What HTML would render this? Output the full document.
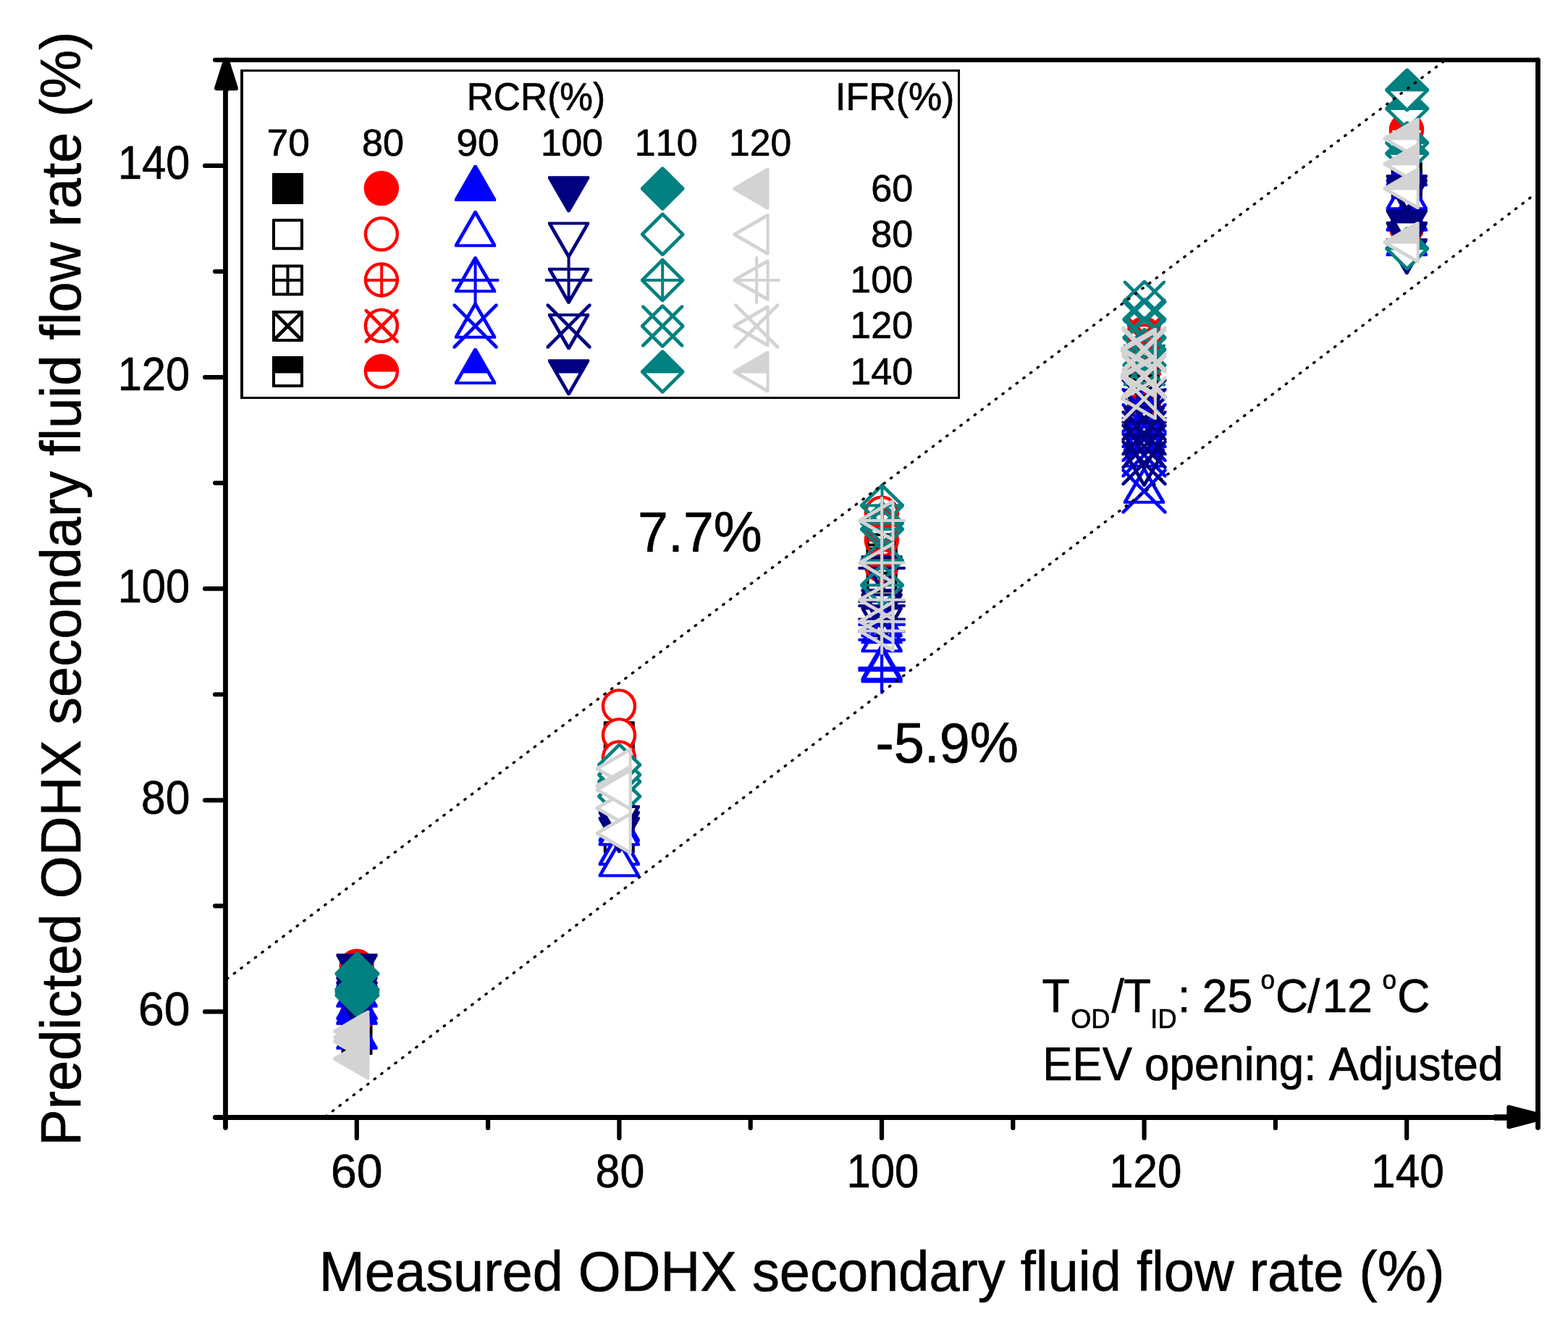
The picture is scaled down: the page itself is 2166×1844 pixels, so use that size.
<!DOCTYPE html>
<html lang="en">
<head>
<meta charset="utf-8">
<title>Predicted vs measured ODHX secondary fluid flow rate</title>
<style>
html,body{margin:0;padding:0;background:#fff;}
body{width:2166px;height:1844px;overflow:hidden;}
svg{display:block;}
</style>
</head>
<body>
<svg width="2166" height="1844" viewBox="0 0 2166 1844">
<g id="pts">
<path d="M471.5 1319.2L472.2 1318.5L513.8 1318.5L514.5 1319.2L514.5 1360.8L513.8 1361.5L472.2 1361.5L471.5 1360.8Z" fill="#000000"/>
<path d="M471.5 1359.2L472.2 1358.5L513.8 1358.5L514.5 1359.2L514.5 1400.8L513.8 1401.5L472.2 1401.5L471.5 1400.8Z" fill="#000000"/>
<path d="M471.5 1414.7L472.2 1414L513.8 1414L514.5 1414.7L514.5 1456.3L513.8 1457L472.2 1457L471.5 1456.3Z" fill="#000000"/>
<circle cx="492.7" cy="1334.6" r="24.2" fill="#ff0000"/>
<circle cx="492.7" cy="1369.5" r="24.2" fill="#ff0000"/>
<circle cx="492.7" cy="1403.5" r="24.2" fill="#ff0000"/>
<path d="M464.4 1361.56L491 1315.48L491.7 1314.79L494.3 1314.79L495 1315.48L521.6 1361.56L521.6 1364.16L520.9 1364.86L465.1 1364.86L464.4 1364.16Z" fill="#0000ff"/>
<path d="M464.4 1388.46L491 1342.38L491.7 1341.68L494.3 1341.68L495 1342.38L521.6 1388.46L521.6 1391.06L520.9 1391.76L465.1 1391.76L464.4 1391.06Z" fill="#0000ff"/>
<path d="M464.4 1405.76L491 1359.68L491.7 1358.98L494.3 1358.98L495 1359.68L521.6 1405.76L521.6 1408.36L520.9 1409.06L465.1 1409.06L464.4 1408.36Z" fill="#0000ff"/>
<path d="M464.4 1412.36L491 1366.29L491.7 1365.59L494.3 1365.59L495 1366.29L521.6 1412.36L521.6 1414.96L520.9 1415.66L465.1 1415.66L464.4 1414.96Z" fill="#0000ff"/>
<path d="M464.4 1446.46L491 1400.38L491.7 1399.68L494.3 1399.68L495 1400.38L521.6 1446.46L521.6 1449.06L520.9 1449.76L465.1 1449.76L464.4 1449.06Z" fill="#0000ff"/>
<path d="M464.4 1317.84L465.1 1317.14L520.9 1317.14L521.6 1317.84L521.6 1320.44L495 1366.52L494.3 1367.21L491.7 1367.21L491 1366.52L464.4 1320.44Z" fill="#000080"/>
<path d="M464.4 1349.34L465.1 1348.64L520.9 1348.64L521.6 1349.34L521.6 1351.94L495 1398.02L494.3 1398.71L491.7 1398.71L491 1398.02L464.4 1351.94Z" fill="#000080"/>
<path d="M464.4 1355.94L465.1 1355.24L520.9 1355.24L521.6 1355.94L521.6 1358.54L495 1404.62L494.3 1405.32L491.7 1405.32L491 1404.62L464.4 1358.54Z" fill="#000080"/>
<path d="M464.4 1370.34L465.1 1369.64L520.9 1369.64L521.6 1370.34L521.6 1372.94L495 1419.02L494.3 1419.71L491.7 1419.71L491 1419.02L464.4 1372.94Z" fill="#000080"/>
<path d="M462.5 1373.5L463.2 1372.8L492.1 1344.5L494.7 1344.5L523.6 1372.8L524.3 1373.5L524.3 1376.1L523.6 1376.8L494.7 1405.1L492.1 1405.1L463.2 1376.8L462.5 1376.1Z" fill="#008080"/>
<path d="M462.5 1368.7L463.2 1368L492.1 1339.7L494.7 1339.7L523.6 1368L524.3 1368.7L524.3 1371.3L523.6 1372L494.7 1400.3L492.1 1400.3L463.2 1372L462.5 1371.3Z" fill="#008080"/>
<path d="M462.5 1365.4L463.2 1364.7L492.1 1336.4L494.7 1336.4L523.6 1364.7L524.3 1365.4L524.3 1368L523.6 1368.7L494.7 1397L492.1 1397L463.2 1368.7L462.5 1368Z" fill="#008080"/>
<path d="M462.5 1343.65L463.2 1342.95L492.1 1314.65L494.7 1314.65L523.6 1342.95L524.3 1343.65L524.3 1346.25L523.6 1346.95L494.7 1375.25L492.1 1375.25L463.2 1346.95L462.5 1346.25Z" fill="#008080"/>
<path d="M460.29 1423.1L460.99 1422.4L507.06 1395.8L509.66 1395.8L510.36 1396.5L510.36 1452.3L509.66 1453L507.06 1453L460.99 1426.4L460.29 1425.7Z" fill="#d3d3d3"/>
<path d="M460.29 1431.7L460.99 1431L507.06 1404.4L509.66 1404.4L510.36 1405.1L510.36 1460.9L509.66 1461.6L507.06 1461.6L460.99 1435L460.29 1434.3Z" fill="#d3d3d3"/>
<path d="M460.29 1437.4L460.99 1436.7L507.06 1410.1L509.66 1410.1L510.36 1410.8L510.36 1466.6L509.66 1467.3L507.06 1467.3L460.99 1440.7L460.29 1440Z" fill="#d3d3d3"/>
<path d="M460.29 1461.2L460.99 1460.5L507.06 1433.9L509.66 1433.9L510.36 1434.6L510.36 1490.4L509.66 1491.1L507.06 1491.1L460.99 1464.5L460.29 1463.8Z" fill="#d3d3d3"/>
<path d="M835.8 998.3L874.8 998.3L874.8 1037.3L835.8 1037.3Z" fill="#fff"/><path d="M833.8 997L834.5 996.3L876.1 996.3L876.8 997L876.8 999.6L876.1 1000.3L834.5 1000.3L833.8 999.6ZM872.8 997L873.5 996.3L876.1 996.3L876.8 997L876.8 1038.6L876.1 1039.3L873.5 1039.3L872.8 1038.6ZM833.8 1036L834.5 1035.3L876.1 1035.3L876.8 1036L876.8 1038.6L876.1 1039.3L834.5 1039.3L833.8 1038.6ZM833.8 997L834.5 996.3L837.1 996.3L837.8 997L837.8 1038.6L837.1 1039.3L834.5 1039.3L833.8 1038.6Z" fill="#000000"/>
<path d="M835.8 1040.5L874.8 1040.5L874.8 1079.5L835.8 1079.5Z" fill="#fff"/><path d="M833.8 1039.2L834.5 1038.5L876.1 1038.5L876.8 1039.2L876.8 1041.8L876.1 1042.5L834.5 1042.5L833.8 1041.8ZM872.8 1039.2L873.5 1038.5L876.1 1038.5L876.8 1039.2L876.8 1080.8L876.1 1081.5L873.5 1081.5L872.8 1080.8ZM833.8 1078.2L834.5 1077.5L876.1 1077.5L876.8 1078.2L876.8 1080.8L876.1 1081.5L834.5 1081.5L833.8 1080.8ZM833.8 1039.2L834.5 1038.5L837.1 1038.5L837.8 1039.2L837.8 1080.8L837.1 1081.5L834.5 1081.5L833.8 1080.8Z" fill="#000000"/>
<path d="M835.8 1090.5L874.8 1090.5L874.8 1129.5L835.8 1129.5Z" fill="#fff"/><path d="M833.8 1089.2L834.5 1088.5L876.1 1088.5L876.8 1089.2L876.8 1091.8L876.1 1092.5L834.5 1092.5L833.8 1091.8ZM872.8 1089.2L873.5 1088.5L876.1 1088.5L876.8 1089.2L876.8 1130.8L876.1 1131.5L873.5 1131.5L872.8 1130.8ZM833.8 1128.2L834.5 1127.5L876.1 1127.5L876.8 1128.2L876.8 1130.8L876.1 1131.5L834.5 1131.5L833.8 1130.8ZM833.8 1089.2L834.5 1088.5L837.1 1088.5L837.8 1089.2L837.8 1130.8L837.1 1131.5L834.5 1131.5L833.8 1130.8Z" fill="#000000"/>
<path d="M835.8 1137.3L874.8 1137.3L874.8 1176.3L835.8 1176.3Z" fill="#fff"/><path d="M833.8 1136L834.5 1135.3L876.1 1135.3L876.8 1136L876.8 1138.6L876.1 1139.3L834.5 1139.3L833.8 1138.6ZM872.8 1136L873.5 1135.3L876.1 1135.3L876.8 1136L876.8 1177.6L876.1 1178.3L873.5 1178.3L872.8 1177.6ZM833.8 1175L834.5 1174.3L876.1 1174.3L876.8 1175L876.8 1177.6L876.1 1178.3L834.5 1178.3L833.8 1177.6ZM833.8 1136L834.5 1135.3L837.1 1135.3L837.8 1136L837.8 1177.6L837.1 1178.3L834.5 1178.3L833.8 1177.6Z" fill="#000000"/>
<circle cx="855" cy="975.4" r="22" fill="#fff" stroke="#ff0000" stroke-width="4.4"/>
<circle cx="855" cy="1015.4" r="22" fill="#fff" stroke="#ff0000" stroke-width="4.4"/>
<circle cx="855" cy="1046.4" r="22" fill="#fff" stroke="#ff0000" stroke-width="4.4"/>
<path d="M855.3 1114.88L881.9 1160.96L828.7 1160.96Z" fill="#fff"/><path d="M853.3 1113.59L854 1112.88L856.6 1112.88L857.3 1113.59L883.9 1159.66L883.9 1162.26L883.2 1162.96L880.6 1162.96L879.9 1162.26L853.3 1116.18ZM826.7 1159.66L827.4 1158.96L883.2 1158.96L883.9 1159.66L883.9 1162.26L883.2 1162.96L827.4 1162.96L826.7 1162.26ZM826.7 1159.66L853.3 1113.59L854 1112.88L856.6 1112.88L857.3 1113.59L857.3 1116.18L830.7 1162.26L830 1162.96L827.4 1162.96L826.7 1162.26Z" fill="#0000ff"/>
<path d="M855.3 1120.38L881.9 1166.46L828.7 1166.46Z" fill="#fff"/><path d="M853.3 1119.09L854 1118.38L856.6 1118.38L857.3 1119.09L883.9 1165.16L883.9 1167.76L883.2 1168.46L880.6 1168.46L879.9 1167.76L853.3 1121.68ZM826.7 1165.16L827.4 1164.46L883.2 1164.46L883.9 1165.16L883.9 1167.76L883.2 1168.46L827.4 1168.46L826.7 1167.76ZM826.7 1165.16L853.3 1119.09L854 1118.38L856.6 1118.38L857.3 1119.09L857.3 1121.68L830.7 1167.76L830 1168.46L827.4 1168.46L826.7 1167.76Z" fill="#0000ff"/>
<path d="M855.3 1147.58L881.9 1193.66L828.7 1193.66Z" fill="#fff"/><path d="M853.3 1146.29L854 1145.59L856.6 1145.59L857.3 1146.29L883.9 1192.36L883.9 1194.96L883.2 1195.66L880.6 1195.66L879.9 1194.96L853.3 1148.88ZM826.7 1192.36L827.4 1191.66L883.2 1191.66L883.9 1192.36L883.9 1194.96L883.2 1195.66L827.4 1195.66L826.7 1194.96ZM826.7 1192.36L853.3 1146.29L854 1145.59L856.6 1145.59L857.3 1146.29L857.3 1148.88L830.7 1194.96L830 1195.66L827.4 1195.66L826.7 1194.96Z" fill="#0000ff"/>
<path d="M855.3 1163.48L881.9 1209.56L828.7 1209.56Z" fill="#fff"/><path d="M853.3 1162.18L854 1161.48L856.6 1161.48L857.3 1162.18L883.9 1208.26L883.9 1210.86L883.2 1211.56L880.6 1211.56L879.9 1210.86L853.3 1164.79ZM826.7 1208.26L827.4 1207.56L883.2 1207.56L883.9 1208.26L883.9 1210.86L883.2 1211.56L827.4 1211.56L826.7 1210.86ZM826.7 1208.26L853.3 1162.18L854 1161.48L856.6 1161.48L857.3 1162.18L857.3 1164.79L830.7 1210.86L830 1211.56L827.4 1211.56L826.7 1210.86Z" fill="#0000ff"/>
<path d="M855.3 1176.22L881.9 1130.14L828.7 1130.14Z" fill="#fff"/><path d="M853.3 1174.91L879.9 1128.84L880.6 1128.14L883.2 1128.14L883.9 1128.84L883.9 1131.44L857.3 1177.52L856.6 1178.21L854 1178.21L853.3 1177.52ZM826.7 1128.84L827.4 1128.14L883.2 1128.14L883.9 1128.84L883.9 1131.44L883.2 1132.14L827.4 1132.14L826.7 1131.44ZM826.7 1128.84L827.4 1128.14L830 1128.14L830.7 1128.84L857.3 1174.91L857.3 1177.52L856.6 1178.21L854 1178.21L853.3 1177.52L826.7 1131.44Z" fill="#000080"/>
<path d="M855.3 1168.32L881.9 1122.24L828.7 1122.24Z" fill="#fff"/><path d="M853.3 1167.02L879.9 1120.94L880.6 1120.24L883.2 1120.24L883.9 1120.94L883.9 1123.54L857.3 1169.62L856.6 1170.32L854 1170.32L853.3 1169.62ZM826.7 1120.94L827.4 1120.24L883.2 1120.24L883.9 1120.94L883.9 1123.54L883.2 1124.24L827.4 1124.24L826.7 1123.54ZM826.7 1120.94L827.4 1120.24L830 1120.24L830.7 1120.94L857.3 1167.02L857.3 1169.62L856.6 1170.32L854 1170.32L853.3 1169.62L826.7 1123.54Z" fill="#000080"/>
<path d="M855.3 1160.22L881.9 1114.14L828.7 1114.14Z" fill="#fff"/><path d="M853.3 1158.91L879.9 1112.84L880.6 1112.14L883.2 1112.14L883.9 1112.84L883.9 1115.44L857.3 1161.52L856.6 1162.21L854 1162.21L853.3 1161.52ZM826.7 1112.84L827.4 1112.14L883.2 1112.14L883.9 1112.84L883.9 1115.44L883.2 1116.14L827.4 1116.14L826.7 1115.44ZM826.7 1112.84L827.4 1112.14L830 1112.14L830.7 1112.84L857.3 1158.91L857.3 1161.52L856.6 1162.21L854 1162.21L853.3 1161.52L826.7 1115.44Z" fill="#000080"/>
<path d="M855.7 1072.15L884.15 1100L855.7 1127.85L827.25 1100Z" fill="#fff"/><path d="M853.7 1070.85L854.4 1070.15L857 1070.15L885.45 1098L886.15 1098.7L886.15 1101.3L885.45 1102L882.85 1102L854.4 1074.15L853.7 1073.45ZM853.7 1126.55L854.4 1125.85L882.85 1098L885.45 1098L886.15 1098.7L886.15 1101.3L885.45 1102L857 1129.85L854.4 1129.85L853.7 1129.15ZM825.25 1098.7L825.95 1098L828.55 1098L857 1125.85L857.7 1126.55L857.7 1129.15L857 1129.85L854.4 1129.85L825.95 1102L825.25 1101.3ZM825.25 1098.7L825.95 1098L854.4 1070.15L857 1070.15L857.7 1070.85L857.7 1073.45L857 1074.15L828.55 1102L825.95 1102L825.25 1101.3Z" fill="#008080"/>
<path d="M855.7 1051.85L884.15 1079.7L855.7 1107.55L827.25 1079.7Z" fill="#fff"/><path d="M853.7 1050.55L854.4 1049.85L857 1049.85L885.45 1077.7L886.15 1078.4L886.15 1081L885.45 1081.7L882.85 1081.7L854.4 1053.85L853.7 1053.15ZM853.7 1106.25L854.4 1105.55L882.85 1077.7L885.45 1077.7L886.15 1078.4L886.15 1081L885.45 1081.7L857 1109.55L854.4 1109.55L853.7 1108.85ZM825.25 1078.4L825.95 1077.7L828.55 1077.7L857 1105.55L857.7 1106.25L857.7 1108.85L857 1109.55L854.4 1109.55L825.95 1081.7L825.25 1081ZM825.25 1078.4L825.95 1077.7L854.4 1049.85L857 1049.85L857.7 1050.55L857.7 1053.15L857 1053.85L828.55 1081.7L825.95 1081.7L825.25 1081Z" fill="#008080"/>
<path d="M855.7 1042.45L884.15 1070.3L855.7 1098.15L827.25 1070.3Z" fill="#fff"/><path d="M853.7 1041.15L854.4 1040.45L857 1040.45L885.45 1068.3L886.15 1069L886.15 1071.6L885.45 1072.3L882.85 1072.3L854.4 1044.45L853.7 1043.75ZM853.7 1096.85L854.4 1096.15L882.85 1068.3L885.45 1068.3L886.15 1069L886.15 1071.6L885.45 1072.3L857 1100.15L854.4 1100.15L853.7 1099.45ZM825.25 1069L825.95 1068.3L828.55 1068.3L857 1096.15L857.7 1096.85L857.7 1099.45L857 1100.15L854.4 1100.15L825.95 1072.3L825.25 1071.6ZM825.25 1069L825.95 1068.3L854.4 1040.45L857 1040.45L857.7 1041.15L857.7 1043.75L857 1044.45L828.55 1072.3L825.95 1072.3L825.25 1071.6Z" fill="#008080"/>
<path d="M855.7 1028.55L884.15 1056.4L855.7 1084.25L827.25 1056.4Z" fill="#fff"/><path d="M853.7 1027.25L854.4 1026.55L857 1026.55L885.45 1054.4L886.15 1055.1L886.15 1057.7L885.45 1058.4L882.85 1058.4L854.4 1030.55L853.7 1029.85ZM853.7 1082.95L854.4 1082.25L882.85 1054.4L885.45 1054.4L886.15 1055.1L886.15 1057.7L885.45 1058.4L857 1086.25L854.4 1086.25L853.7 1085.55ZM825.25 1055.1L825.95 1054.4L828.55 1054.4L857 1082.25L857.7 1082.95L857.7 1085.55L857 1086.25L854.4 1086.25L825.95 1058.4L825.25 1057.7ZM825.25 1055.1L825.95 1054.4L854.4 1026.55L857 1026.55L857.7 1027.25L857.7 1029.85L857 1030.55L828.55 1058.4L825.95 1058.4L825.25 1057.7Z" fill="#008080"/>
<path d="M824.58 1116.2L870.66 1089.6L870.66 1142.8Z" fill="#fff"/><path d="M822.59 1114.9L823.28 1114.2L869.36 1087.6L871.96 1087.6L872.66 1088.3L872.66 1090.9L871.96 1091.6L825.88 1118.2L823.28 1118.2L822.59 1117.5ZM868.66 1088.3L869.36 1087.6L871.96 1087.6L872.66 1088.3L872.66 1144.1L871.96 1144.8L869.36 1144.8L868.66 1144.1ZM822.59 1114.9L823.28 1114.2L825.88 1114.2L871.96 1140.8L872.66 1141.5L872.66 1144.1L871.96 1144.8L869.36 1144.8L823.28 1118.2L822.59 1117.5Z" fill="#d3d3d3"/>
<path d="M824.58 1151.1L870.66 1124.5L870.66 1177.7Z" fill="#fff"/><path d="M822.59 1149.8L823.28 1149.1L869.36 1122.5L871.96 1122.5L872.66 1123.2L872.66 1125.8L871.96 1126.5L825.88 1153.1L823.28 1153.1L822.59 1152.4ZM868.66 1123.2L869.36 1122.5L871.96 1122.5L872.66 1123.2L872.66 1179L871.96 1179.7L869.36 1179.7L868.66 1179ZM822.59 1149.8L823.28 1149.1L825.88 1149.1L871.96 1175.7L872.66 1176.4L872.66 1179L871.96 1179.7L869.36 1179.7L823.28 1153.1L822.59 1152.4Z" fill="#d3d3d3"/>
<path d="M824.58 1061.8L870.66 1035.2L870.66 1088.4Z" fill="#fff"/><path d="M822.59 1060.5L823.28 1059.8L869.36 1033.2L871.96 1033.2L872.66 1033.9L872.66 1036.5L871.96 1037.2L825.88 1063.8L823.28 1063.8L822.59 1063.1ZM868.66 1033.9L869.36 1033.2L871.96 1033.2L872.66 1033.9L872.66 1089.7L871.96 1090.4L869.36 1090.4L868.66 1089.7ZM822.59 1060.5L823.28 1059.8L825.88 1059.8L871.96 1086.4L872.66 1087.1L872.66 1089.7L871.96 1090.4L869.36 1090.4L823.28 1063.8L822.59 1063.1Z" fill="#d3d3d3"/>
<path d="M824.58 1085.6L870.66 1059L870.66 1112.2Z" fill="#fff"/><path d="M822.59 1084.3L823.28 1083.6L869.36 1057L871.96 1057L872.66 1057.7L872.66 1060.3L871.96 1061L825.88 1087.6L823.28 1087.6L822.59 1086.9ZM868.66 1057.7L869.36 1057L871.96 1057L872.66 1057.7L872.66 1113.5L871.96 1114.2L869.36 1114.2L868.66 1113.5ZM822.59 1084.3L823.28 1083.6L825.88 1083.6L871.96 1110.2L872.66 1110.9L872.66 1113.5L871.96 1114.2L869.36 1114.2L823.28 1087.6L822.59 1086.9Z" fill="#d3d3d3"/>
<path d="M824.58 1090.7L870.66 1064.1L870.66 1117.3Z" fill="#fff"/><path d="M822.59 1089.4L823.28 1088.7L869.36 1062.1L871.96 1062.1L872.66 1062.8L872.66 1065.4L871.96 1066.1L825.88 1092.7L823.28 1092.7L822.59 1092ZM868.66 1062.8L869.36 1062.1L871.96 1062.1L872.66 1062.8L872.66 1118.6L871.96 1119.3L869.36 1119.3L868.66 1118.6ZM822.59 1089.4L823.28 1088.7L825.88 1088.7L871.96 1115.3L872.66 1116L872.66 1118.6L871.96 1119.3L869.36 1119.3L823.28 1092.7L822.59 1092Z" fill="#d3d3d3"/>
<path d="M1196.6 737.3L1197.3 736.6L1238.9 736.6L1239.6 737.3L1239.6 739.9L1238.9 740.6L1197.3 740.6L1196.6 739.9ZM1235.6 737.3L1236.3 736.6L1238.9 736.6L1239.6 737.3L1239.6 778.9L1238.9 779.6L1236.3 779.6L1235.6 778.9ZM1196.6 776.3L1197.3 775.6L1238.9 775.6L1239.6 776.3L1239.6 778.9L1238.9 779.6L1197.3 779.6L1196.6 778.9ZM1196.6 737.3L1197.3 736.6L1199.9 736.6L1200.6 737.3L1200.6 778.9L1199.9 779.6L1197.3 779.6L1196.6 778.9ZM1196.6 756.8L1197.3 756.1L1238.9 756.1L1239.6 756.8L1239.6 759.4L1238.9 760.1L1197.3 760.1L1196.6 759.4ZM1216.1 737.3L1216.8 736.6L1219.4 736.6L1220.1 737.3L1220.1 778.9L1219.4 779.6L1216.8 779.6L1216.1 778.9Z" fill="#000000"/>
<path d="M1196.6 751.4L1197.3 750.7L1238.9 750.7L1239.6 751.4L1239.6 754L1238.9 754.7L1197.3 754.7L1196.6 754ZM1235.6 751.4L1236.3 750.7L1238.9 750.7L1239.6 751.4L1239.6 793L1238.9 793.7L1236.3 793.7L1235.6 793ZM1196.6 790.4L1197.3 789.7L1238.9 789.7L1239.6 790.4L1239.6 793L1238.9 793.7L1197.3 793.7L1196.6 793ZM1196.6 751.4L1197.3 750.7L1199.9 750.7L1200.6 751.4L1200.6 793L1199.9 793.7L1197.3 793.7L1196.6 793ZM1196.6 770.9L1197.3 770.2L1238.9 770.2L1239.6 770.9L1239.6 773.5L1238.9 774.2L1197.3 774.2L1196.6 773.5ZM1216.1 751.4L1216.8 750.7L1219.4 750.7L1220.1 751.4L1220.1 793L1219.4 793.7L1216.8 793.7L1216.1 793Z" fill="#000000"/>
<path d="M1196.6 776.2L1197.3 775.5L1238.9 775.5L1239.6 776.2L1239.6 778.8L1238.9 779.5L1197.3 779.5L1196.6 778.8ZM1235.6 776.2L1236.3 775.5L1238.9 775.5L1239.6 776.2L1239.6 817.8L1238.9 818.5L1236.3 818.5L1235.6 817.8ZM1196.6 815.2L1197.3 814.5L1238.9 814.5L1239.6 815.2L1239.6 817.8L1238.9 818.5L1197.3 818.5L1196.6 817.8ZM1196.6 776.2L1197.3 775.5L1199.9 775.5L1200.6 776.2L1200.6 817.8L1199.9 818.5L1197.3 818.5L1196.6 817.8ZM1196.6 795.7L1197.3 795L1238.9 795L1239.6 795.7L1239.6 798.3L1238.9 799L1197.3 799L1196.6 798.3ZM1216.1 776.2L1216.8 775.5L1219.4 775.5L1220.1 776.2L1220.1 817.8L1219.4 818.5L1216.8 818.5L1216.1 817.8Z" fill="#000000"/>
<circle cx="1217.8" cy="708.75" r="22" fill="none" stroke="#ff0000" stroke-width="4.4"/><path d="M1194.1 707.95L1194.8 707.25L1241.4 707.25L1242.1 707.95L1242.1 710.55L1241.4 711.25L1194.8 711.25L1194.1 710.55ZM1216.1 685.95L1216.8 685.25L1219.4 685.25L1220.1 685.95L1220.1 732.55L1219.4 733.25L1216.8 733.25L1216.1 732.55Z" fill="#ff0000"/>
<circle cx="1217.8" cy="725.8" r="22" fill="none" stroke="#ff0000" stroke-width="4.4"/><path d="M1194.1 725L1194.8 724.3L1241.4 724.3L1242.1 725L1242.1 727.6L1241.4 728.3L1194.8 728.3L1194.1 727.6ZM1216.1 703L1216.8 702.3L1219.4 702.3L1220.1 703L1220.1 749.6L1219.4 750.3L1216.8 750.3L1216.1 749.6Z" fill="#ff0000"/>
<circle cx="1217.8" cy="745.8" r="22" fill="none" stroke="#ff0000" stroke-width="4.4"/><path d="M1194.1 745L1194.8 744.3L1241.4 744.3L1242.1 745L1242.1 747.6L1241.4 748.3L1194.8 748.3L1194.1 747.6ZM1216.1 723L1216.8 722.3L1219.4 722.3L1220.1 723L1220.1 769.6L1219.4 770.3L1216.8 770.3L1216.1 769.6Z" fill="#ff0000"/>
<circle cx="1217.8" cy="781" r="22" fill="none" stroke="#ff0000" stroke-width="4.4"/><path d="M1194.1 780.2L1194.8 779.5L1241.4 779.5L1242.1 780.2L1242.1 782.8L1241.4 783.5L1194.8 783.5L1194.1 782.8ZM1216.1 758.2L1216.8 757.5L1219.4 757.5L1220.1 758.2L1220.1 804.8L1219.4 805.5L1216.8 805.5L1216.1 804.8Z" fill="#ff0000"/>
<path d="M1216.1 830.78L1216.8 830.09L1219.4 830.09L1220.1 830.78L1246.7 876.86L1246.7 879.46L1246 880.16L1243.4 880.16L1242.7 879.46L1216.1 833.38ZM1189.5 876.86L1190.2 876.16L1246 876.16L1246.7 876.86L1246.7 879.46L1246 880.16L1190.2 880.16L1189.5 879.46ZM1189.5 876.86L1216.1 830.78L1216.8 830.09L1219.4 830.09L1220.1 830.78L1220.1 833.38L1193.5 879.46L1192.8 880.16L1190.2 880.16L1189.5 879.46ZM1185.38 861.5L1186.09 860.8L1250.12 860.8L1250.82 861.5L1250.82 864.1L1250.12 864.8L1186.09 864.8L1185.38 864.1ZM1216.1 830.78L1216.8 830.09L1219.4 830.09L1220.1 830.78L1220.1 894.82L1219.4 895.51L1216.8 895.51L1216.1 894.82Z" fill="#0000ff"/>
<path d="M1216.1 839.99L1216.8 839.28L1219.4 839.28L1220.1 839.99L1246.7 886.06L1246.7 888.66L1246 889.36L1243.4 889.36L1242.7 888.66L1216.1 842.59ZM1189.5 886.06L1190.2 885.36L1246 885.36L1246.7 886.06L1246.7 888.66L1246 889.36L1190.2 889.36L1189.5 888.66ZM1189.5 886.06L1216.1 839.99L1216.8 839.28L1219.4 839.28L1220.1 839.99L1220.1 842.59L1193.5 888.66L1192.8 889.36L1190.2 889.36L1189.5 888.66ZM1185.38 870.7L1186.09 870L1250.12 870L1250.82 870.7L1250.82 873.3L1250.12 874L1186.09 874L1185.38 873.3ZM1216.1 839.99L1216.8 839.28L1219.4 839.28L1220.1 839.99L1220.1 904.01L1219.4 904.72L1216.8 904.72L1216.1 904.01Z" fill="#0000ff"/>
<path d="M1216.1 851.78L1216.8 851.09L1219.4 851.09L1220.1 851.78L1246.7 897.86L1246.7 900.46L1246 901.16L1243.4 901.16L1242.7 900.46L1216.1 854.38ZM1189.5 897.86L1190.2 897.16L1246 897.16L1246.7 897.86L1246.7 900.46L1246 901.16L1190.2 901.16L1189.5 900.46ZM1189.5 897.86L1216.1 851.78L1216.8 851.09L1219.4 851.09L1220.1 851.78L1220.1 854.38L1193.5 900.46L1192.8 901.16L1190.2 901.16L1189.5 900.46ZM1185.38 882.5L1186.09 881.8L1250.12 881.8L1250.82 882.5L1250.82 885.1L1250.12 885.8L1186.09 885.8L1185.38 885.1ZM1216.1 851.78L1216.8 851.09L1219.4 851.09L1220.1 851.78L1220.1 915.82L1219.4 916.51L1216.8 916.51L1216.1 915.82Z" fill="#0000ff"/>
<path d="M1216.1 890.78L1216.8 890.09L1219.4 890.09L1220.1 890.78L1246.7 936.86L1246.7 939.46L1246 940.16L1243.4 940.16L1242.7 939.46L1216.1 893.38ZM1189.5 936.86L1190.2 936.16L1246 936.16L1246.7 936.86L1246.7 939.46L1246 940.16L1190.2 940.16L1189.5 939.46ZM1189.5 936.86L1216.1 890.78L1216.8 890.09L1219.4 890.09L1220.1 890.78L1220.1 893.38L1193.5 939.46L1192.8 940.16L1190.2 940.16L1189.5 939.46ZM1185.38 921.5L1186.09 920.8L1250.12 920.8L1250.82 921.5L1250.82 924.1L1250.12 924.8L1186.09 924.8L1185.38 924.1ZM1216.1 890.78L1216.8 890.09L1219.4 890.09L1220.1 890.78L1220.1 954.82L1219.4 955.51L1216.8 955.51L1216.1 954.82Z" fill="#0000ff"/>
<path d="M1216.1 893.78L1216.8 893.09L1219.4 893.09L1220.1 893.78L1246.7 939.86L1246.7 942.46L1246 943.16L1243.4 943.16L1242.7 942.46L1216.1 896.38ZM1189.5 939.86L1190.2 939.16L1246 939.16L1246.7 939.86L1246.7 942.46L1246 943.16L1190.2 943.16L1189.5 942.46ZM1189.5 939.86L1216.1 893.78L1216.8 893.09L1219.4 893.09L1220.1 893.78L1220.1 896.38L1193.5 942.46L1192.8 943.16L1190.2 943.16L1189.5 942.46ZM1185.38 924.5L1186.09 923.8L1250.12 923.8L1250.82 924.5L1250.82 927.1L1250.12 927.8L1186.09 927.8L1185.38 927.1ZM1216.1 893.78L1216.8 893.09L1219.4 893.09L1220.1 893.78L1220.1 957.82L1219.4 958.51L1216.8 958.51L1216.1 957.82Z" fill="#0000ff"/>
<path d="M1216.1 814.12L1242.7 768.04L1243.4 767.34L1246 767.34L1246.7 768.04L1246.7 770.64L1220.1 816.72L1219.4 817.41L1216.8 817.41L1216.1 816.72ZM1189.5 768.04L1190.2 767.34L1246 767.34L1246.7 768.04L1246.7 770.64L1246 771.34L1190.2 771.34L1189.5 770.64ZM1189.5 768.04L1190.2 767.34L1192.8 767.34L1193.5 768.04L1220.1 814.12L1220.1 816.72L1219.4 817.41L1216.8 817.41L1216.1 816.72L1189.5 770.64ZM1185.38 783.4L1186.09 782.7L1250.12 782.7L1250.82 783.4L1250.82 786L1250.12 786.7L1186.09 786.7L1185.38 786ZM1216.1 752.68L1216.8 751.99L1219.4 751.99L1220.1 752.68L1220.1 816.72L1219.4 817.41L1216.8 817.41L1216.1 816.72Z" fill="#000080"/>
<path d="M1216.1 859.91L1242.7 813.84L1243.4 813.14L1246 813.14L1246.7 813.84L1246.7 816.44L1220.1 862.51L1219.4 863.22L1216.8 863.22L1216.1 862.51ZM1189.5 813.84L1190.2 813.14L1246 813.14L1246.7 813.84L1246.7 816.44L1246 817.14L1190.2 817.14L1189.5 816.44ZM1189.5 813.84L1190.2 813.14L1192.8 813.14L1193.5 813.84L1220.1 859.91L1220.1 862.51L1219.4 863.22L1216.8 863.22L1216.1 862.51L1189.5 816.44ZM1185.38 829.2L1186.09 828.5L1250.12 828.5L1250.82 829.2L1250.82 831.8L1250.12 832.5L1186.09 832.5L1185.38 831.8ZM1216.1 798.49L1216.8 797.78L1219.4 797.78L1220.1 798.49L1220.1 862.51L1219.4 863.22L1216.8 863.22L1216.1 862.51Z" fill="#000080"/>
<path d="M1216.1 866.22L1242.7 820.14L1243.4 819.44L1246 819.44L1246.7 820.14L1246.7 822.74L1220.1 868.82L1219.4 869.51L1216.8 869.51L1216.1 868.82ZM1189.5 820.14L1190.2 819.44L1246 819.44L1246.7 820.14L1246.7 822.74L1246 823.44L1190.2 823.44L1189.5 822.74ZM1189.5 820.14L1190.2 819.44L1192.8 819.44L1193.5 820.14L1220.1 866.22L1220.1 868.82L1219.4 869.51L1216.8 869.51L1216.1 868.82L1189.5 822.74ZM1185.38 835.5L1186.09 834.8L1250.12 834.8L1250.82 835.5L1250.82 838.1L1250.12 838.8L1186.09 838.8L1185.38 838.1ZM1216.1 804.78L1216.8 804.09L1219.4 804.09L1220.1 804.78L1220.1 868.82L1219.4 869.51L1216.8 869.51L1216.1 868.82Z" fill="#000080"/>
<path d="M1216.1 884.91L1242.7 838.84L1243.4 838.14L1246 838.14L1246.7 838.84L1246.7 841.44L1220.1 887.51L1219.4 888.22L1216.8 888.22L1216.1 887.51ZM1189.5 838.84L1190.2 838.14L1246 838.14L1246.7 838.84L1246.7 841.44L1246 842.14L1190.2 842.14L1189.5 841.44ZM1189.5 838.84L1190.2 838.14L1192.8 838.14L1193.5 838.84L1220.1 884.91L1220.1 887.51L1219.4 888.22L1216.8 888.22L1216.1 887.51L1189.5 841.44ZM1185.38 854.2L1186.09 853.5L1250.12 853.5L1250.82 854.2L1250.82 856.8L1250.12 857.5L1186.09 857.5L1185.38 856.8ZM1216.1 823.49L1216.8 822.78L1219.4 822.78L1220.1 823.49L1220.1 887.51L1219.4 888.22L1216.8 888.22L1216.1 887.51Z" fill="#000080"/>
<path d="M1216.5 669.15L1217.2 668.45L1219.8 668.45L1248.25 696.3L1248.95 697L1248.95 699.6L1248.25 700.3L1245.65 700.3L1217.2 672.45L1216.5 671.75ZM1216.5 724.85L1217.2 724.15L1245.65 696.3L1248.25 696.3L1248.95 697L1248.95 699.6L1248.25 700.3L1219.8 728.15L1217.2 728.15L1216.5 727.45ZM1188.05 697L1188.75 696.3L1191.35 696.3L1219.8 724.15L1220.5 724.85L1220.5 727.45L1219.8 728.15L1217.2 728.15L1188.75 700.3L1188.05 699.6ZM1188.05 697L1188.75 696.3L1217.2 668.45L1219.8 668.45L1220.5 669.15L1220.5 671.75L1219.8 672.45L1191.35 700.3L1188.75 700.3L1188.05 699.6ZM1188.05 697L1188.75 696.3L1248.25 696.3L1248.95 697L1248.95 699.6L1248.25 700.3L1188.75 700.3L1188.05 699.6ZM1216.5 668.55L1217.2 667.85L1219.8 667.85L1220.5 668.55L1220.5 728.05L1219.8 728.75L1217.2 728.75L1216.5 728.05Z" fill="#008080"/>
<path d="M1216.5 693.45L1217.2 692.75L1219.8 692.75L1248.25 720.6L1248.95 721.3L1248.95 723.9L1248.25 724.6L1245.65 724.6L1217.2 696.75L1216.5 696.05ZM1216.5 749.15L1217.2 748.45L1245.65 720.6L1248.25 720.6L1248.95 721.3L1248.95 723.9L1248.25 724.6L1219.8 752.45L1217.2 752.45L1216.5 751.75ZM1188.05 721.3L1188.75 720.6L1191.35 720.6L1219.8 748.45L1220.5 749.15L1220.5 751.75L1219.8 752.45L1217.2 752.45L1188.75 724.6L1188.05 723.9ZM1188.05 721.3L1188.75 720.6L1217.2 692.75L1219.8 692.75L1220.5 693.45L1220.5 696.05L1219.8 696.75L1191.35 724.6L1188.75 724.6L1188.05 723.9ZM1188.05 721.3L1188.75 720.6L1248.25 720.6L1248.95 721.3L1248.95 723.9L1248.25 724.6L1188.75 724.6L1188.05 723.9ZM1216.5 692.85L1217.2 692.15L1219.8 692.15L1220.5 692.85L1220.5 752.35L1219.8 753.05L1217.2 753.05L1216.5 752.35Z" fill="#008080"/>
<path d="M1216.5 701.95L1217.2 701.25L1219.8 701.25L1248.25 729.1L1248.95 729.8L1248.95 732.4L1248.25 733.1L1245.65 733.1L1217.2 705.25L1216.5 704.55ZM1216.5 757.65L1217.2 756.95L1245.65 729.1L1248.25 729.1L1248.95 729.8L1248.95 732.4L1248.25 733.1L1219.8 760.95L1217.2 760.95L1216.5 760.25ZM1188.05 729.8L1188.75 729.1L1191.35 729.1L1219.8 756.95L1220.5 757.65L1220.5 760.25L1219.8 760.95L1217.2 760.95L1188.75 733.1L1188.05 732.4ZM1188.05 729.8L1188.75 729.1L1217.2 701.25L1219.8 701.25L1220.5 701.95L1220.5 704.55L1219.8 705.25L1191.35 733.1L1188.75 733.1L1188.05 732.4ZM1188.05 729.8L1188.75 729.1L1248.25 729.1L1248.95 729.8L1248.95 732.4L1248.25 733.1L1188.75 733.1L1188.05 732.4ZM1216.5 701.35L1217.2 700.65L1219.8 700.65L1220.5 701.35L1220.5 760.85L1219.8 761.55L1217.2 761.55L1216.5 760.85Z" fill="#008080"/>
<path d="M1216.5 745.05L1217.2 744.35L1219.8 744.35L1248.25 772.2L1248.95 772.9L1248.95 775.5L1248.25 776.2L1245.65 776.2L1217.2 748.35L1216.5 747.65ZM1216.5 800.75L1217.2 800.05L1245.65 772.2L1248.25 772.2L1248.95 772.9L1248.95 775.5L1248.25 776.2L1219.8 804.05L1217.2 804.05L1216.5 803.35ZM1188.05 772.9L1188.75 772.2L1191.35 772.2L1219.8 800.05L1220.5 800.75L1220.5 803.35L1219.8 804.05L1217.2 804.05L1188.75 776.2L1188.05 775.5ZM1188.05 772.9L1188.75 772.2L1217.2 744.35L1219.8 744.35L1220.5 745.05L1220.5 747.65L1219.8 748.35L1191.35 776.2L1188.75 776.2L1188.05 775.5ZM1188.05 772.9L1188.75 772.2L1248.25 772.2L1248.95 772.9L1248.95 775.5L1248.25 776.2L1188.75 776.2L1188.05 775.5ZM1216.5 744.45L1217.2 743.75L1219.8 743.75L1220.5 744.45L1220.5 803.95L1219.8 804.65L1217.2 804.65L1216.5 803.95Z" fill="#008080"/>
<path d="M1216.5 779.15L1217.2 778.45L1219.8 778.45L1248.25 806.3L1248.95 807L1248.95 809.6L1248.25 810.3L1245.65 810.3L1217.2 782.45L1216.5 781.75ZM1216.5 834.85L1217.2 834.15L1245.65 806.3L1248.25 806.3L1248.95 807L1248.95 809.6L1248.25 810.3L1219.8 838.15L1217.2 838.15L1216.5 837.45ZM1188.05 807L1188.75 806.3L1191.35 806.3L1219.8 834.15L1220.5 834.85L1220.5 837.45L1219.8 838.15L1217.2 838.15L1188.75 810.3L1188.05 809.6ZM1188.05 807L1188.75 806.3L1217.2 778.45L1219.8 778.45L1220.5 779.15L1220.5 781.75L1219.8 782.45L1191.35 810.3L1188.75 810.3L1188.05 809.6ZM1188.05 807L1188.75 806.3L1248.25 806.3L1248.95 807L1248.95 809.6L1248.25 810.3L1188.75 810.3L1188.05 809.6ZM1216.5 778.55L1217.2 777.85L1219.8 777.85L1220.5 778.55L1220.5 838.05L1219.8 838.75L1217.2 838.75L1216.5 838.05Z" fill="#008080"/>
<path d="M1185.38 717.65L1186.09 716.95L1232.16 690.35L1234.76 690.35L1235.46 691.05L1235.46 693.65L1234.76 694.35L1188.68 720.95L1186.09 720.95L1185.38 720.25ZM1231.46 691.05L1232.16 690.35L1234.76 690.35L1235.46 691.05L1235.46 746.85L1234.76 747.55L1232.16 747.55L1231.46 746.85ZM1185.38 717.65L1186.09 716.95L1188.68 716.95L1234.76 743.55L1235.46 744.25L1235.46 746.85L1234.76 747.55L1232.16 747.55L1186.09 720.95L1185.38 720.25ZM1185.38 717.65L1186.09 716.95L1250.12 716.95L1250.82 717.65L1250.82 720.25L1250.12 720.95L1186.09 720.95L1185.38 720.25ZM1216.1 686.93L1216.8 686.24L1219.4 686.24L1220.1 686.93L1220.1 750.97L1219.4 751.66L1216.8 751.66L1216.1 750.97Z" fill="#d3d3d3"/>
<path d="M1185.38 776.3L1186.09 775.6L1232.16 749L1234.76 749L1235.46 749.7L1235.46 752.3L1234.76 753L1188.68 779.6L1186.09 779.6L1185.38 778.9ZM1231.46 749.7L1232.16 749L1234.76 749L1235.46 749.7L1235.46 805.5L1234.76 806.2L1232.16 806.2L1231.46 805.5ZM1185.38 776.3L1186.09 775.6L1188.68 775.6L1234.76 802.2L1235.46 802.9L1235.46 805.5L1234.76 806.2L1232.16 806.2L1186.09 779.6L1185.38 778.9ZM1185.38 776.3L1186.09 775.6L1250.12 775.6L1250.82 776.3L1250.82 778.9L1250.12 779.6L1186.09 779.6L1185.38 778.9ZM1216.1 745.59L1216.8 744.88L1219.4 744.88L1220.1 745.59L1220.1 809.62L1219.4 810.32L1216.8 810.32L1216.1 809.62Z" fill="#d3d3d3"/>
<path d="M1185.38 827.2L1186.09 826.5L1232.16 799.9L1234.76 799.9L1235.46 800.6L1235.46 803.2L1234.76 803.9L1188.68 830.5L1186.09 830.5L1185.38 829.8ZM1231.46 800.6L1232.16 799.9L1234.76 799.9L1235.46 800.6L1235.46 856.4L1234.76 857.1L1232.16 857.1L1231.46 856.4ZM1185.38 827.2L1186.09 826.5L1188.68 826.5L1234.76 853.1L1235.46 853.8L1235.46 856.4L1234.76 857.1L1232.16 857.1L1186.09 830.5L1185.38 829.8ZM1185.38 827.2L1186.09 826.5L1250.12 826.5L1250.82 827.2L1250.82 829.8L1250.12 830.5L1186.09 830.5L1185.38 829.8ZM1216.1 796.49L1216.8 795.78L1219.4 795.78L1220.1 796.49L1220.1 860.51L1219.4 861.22L1216.8 861.22L1216.1 860.51Z" fill="#d3d3d3"/>
<path d="M1185.38 857.1L1186.09 856.4L1232.16 829.8L1234.76 829.8L1235.46 830.5L1235.46 833.1L1234.76 833.8L1188.68 860.4L1186.09 860.4L1185.38 859.7ZM1231.46 830.5L1232.16 829.8L1234.76 829.8L1235.46 830.5L1235.46 886.3L1234.76 887L1232.16 887L1231.46 886.3ZM1185.38 857.1L1186.09 856.4L1188.68 856.4L1234.76 883L1235.46 883.7L1235.46 886.3L1234.76 887L1232.16 887L1186.09 860.4L1185.38 859.7ZM1185.38 857.1L1186.09 856.4L1250.12 856.4L1250.82 857.1L1250.82 859.7L1250.12 860.4L1186.09 860.4L1185.38 859.7ZM1216.1 826.38L1216.8 825.68L1219.4 825.68L1220.1 826.38L1220.1 890.41L1219.4 891.12L1216.8 891.12L1216.1 890.41Z" fill="#d3d3d3"/>
<path d="M1185.38 870.3L1186.09 869.6L1232.16 843L1234.76 843L1235.46 843.7L1235.46 846.3L1234.76 847L1188.68 873.6L1186.09 873.6L1185.38 872.9ZM1231.46 843.7L1232.16 843L1234.76 843L1235.46 843.7L1235.46 899.5L1234.76 900.2L1232.16 900.2L1231.46 899.5ZM1185.38 870.3L1186.09 869.6L1188.68 869.6L1234.76 896.2L1235.46 896.9L1235.46 899.5L1234.76 900.2L1232.16 900.2L1186.09 873.6L1185.38 872.9ZM1185.38 870.3L1186.09 869.6L1250.12 869.6L1250.82 870.3L1250.82 872.9L1250.12 873.6L1186.09 873.6L1185.38 872.9ZM1216.1 839.59L1216.8 838.88L1219.4 838.88L1220.1 839.59L1220.1 903.62L1219.4 904.32L1216.8 904.32L1216.1 903.62Z" fill="#d3d3d3"/>
<path d="M1559 479.2L1559.7 478.5L1601.3 478.5L1602 479.2L1602 481.8L1601.3 482.5L1559.7 482.5L1559 481.8ZM1598 479.2L1598.7 478.5L1601.3 478.5L1602 479.2L1602 520.8L1601.3 521.5L1598.7 521.5L1598 520.8ZM1559 518.2L1559.7 517.5L1601.3 517.5L1602 518.2L1602 520.8L1601.3 521.5L1559.7 521.5L1559 520.8ZM1559 479.2L1559.7 478.5L1562.3 478.5L1563 479.2L1563 520.8L1562.3 521.5L1559.7 521.5L1559 520.8ZM1559 479.2L1559.7 478.5L1562.3 478.5L1602 518.2L1602 520.8L1601.3 521.5L1598.7 521.5L1559 481.8ZM1559 518.2L1598.7 478.5L1601.3 478.5L1602 479.2L1602 481.8L1562.3 521.5L1559.7 521.5L1559 520.8Z" fill="#000000"/>
<path d="M1559 516.2L1559.7 515.5L1601.3 515.5L1602 516.2L1602 518.8L1601.3 519.5L1559.7 519.5L1559 518.8ZM1598 516.2L1598.7 515.5L1601.3 515.5L1602 516.2L1602 557.8L1601.3 558.5L1598.7 558.5L1598 557.8ZM1559 555.2L1559.7 554.5L1601.3 554.5L1602 555.2L1602 557.8L1601.3 558.5L1559.7 558.5L1559 557.8ZM1559 516.2L1559.7 515.5L1562.3 515.5L1563 516.2L1563 557.8L1562.3 558.5L1559.7 558.5L1559 557.8ZM1559 516.2L1559.7 515.5L1562.3 515.5L1602 555.2L1602 557.8L1601.3 558.5L1598.7 558.5L1559 518.8ZM1559 555.2L1598.7 515.5L1601.3 515.5L1602 516.2L1602 518.8L1562.3 558.5L1559.7 558.5L1559 557.8Z" fill="#000000"/>
<path d="M1559 524.2L1559.7 523.5L1601.3 523.5L1602 524.2L1602 526.8L1601.3 527.5L1559.7 527.5L1559 526.8ZM1598 524.2L1598.7 523.5L1601.3 523.5L1602 524.2L1602 565.8L1601.3 566.5L1598.7 566.5L1598 565.8ZM1559 563.2L1559.7 562.5L1601.3 562.5L1602 563.2L1602 565.8L1601.3 566.5L1559.7 566.5L1559 565.8ZM1559 524.2L1559.7 523.5L1562.3 523.5L1563 524.2L1563 565.8L1562.3 566.5L1559.7 566.5L1559 565.8ZM1559 524.2L1559.7 523.5L1562.3 523.5L1602 563.2L1602 565.8L1601.3 566.5L1598.7 566.5L1559 526.8ZM1559 563.2L1598.7 523.5L1601.3 523.5L1602 524.2L1602 526.8L1562.3 566.5L1559.7 566.5L1559 565.8Z" fill="#000000"/>
<circle cx="1580.2" cy="461.3" r="22" fill="none" stroke="#ff0000" stroke-width="4.4"/><path d="M1557 439L1557.7 438.3L1560.3 438.3L1604 482L1604 484.6L1603.3 485.3L1600.7 485.3L1557 441.6ZM1557 482L1600.7 438.3L1603.3 438.3L1604 439L1604 441.6L1560.3 485.3L1557.7 485.3L1557 484.6Z" fill="#ff0000"/>
<circle cx="1580.2" cy="465" r="22" fill="none" stroke="#ff0000" stroke-width="4.4"/><path d="M1557 442.7L1557.7 442L1560.3 442L1604 485.7L1604 488.3L1603.3 489L1600.7 489L1557 445.3ZM1557 485.7L1600.7 442L1603.3 442L1604 442.7L1604 445.3L1560.3 489L1557.7 489L1557 488.3Z" fill="#ff0000"/>
<circle cx="1580.2" cy="471" r="22" fill="none" stroke="#ff0000" stroke-width="4.4"/><path d="M1557 448.7L1557.7 448L1560.3 448L1604 491.7L1604 494.3L1603.3 495L1600.7 495L1557 451.3ZM1557 491.7L1600.7 448L1603.3 448L1604 448.7L1604 451.3L1560.3 495L1557.7 495L1557 494.3Z" fill="#ff0000"/>
<circle cx="1580.2" cy="494.5" r="22" fill="none" stroke="#ff0000" stroke-width="4.4"/><path d="M1557 472.2L1557.7 471.5L1560.3 471.5L1604 515.2L1604 517.8L1603.3 518.5L1600.7 518.5L1557 474.8ZM1557 515.2L1600.7 471.5L1603.3 471.5L1604 472.2L1604 474.8L1560.3 518.5L1557.7 518.5L1557 517.8Z" fill="#ff0000"/>
<circle cx="1580.2" cy="564.5" r="22" fill="none" stroke="#ff0000" stroke-width="4.4"/><path d="M1557 542.2L1557.7 541.5L1560.3 541.5L1604 585.2L1604 587.8L1603.3 588.5L1600.7 588.5L1557 544.8ZM1557 585.2L1600.7 541.5L1603.3 541.5L1604 542.2L1604 544.8L1560.3 588.5L1557.7 588.5L1557 587.8Z" fill="#ff0000"/>
<circle cx="1580.2" cy="583.9" r="22" fill="none" stroke="#ff0000" stroke-width="4.4"/><path d="M1557 561.6L1557.7 560.9L1560.3 560.9L1604 604.6L1604 607.2L1603.3 607.9L1600.7 607.9L1557 564.2ZM1557 604.6L1600.7 560.9L1603.3 560.9L1604 561.6L1604 564.2L1560.3 607.9L1557.7 607.9L1557 607.2Z" fill="#ff0000"/>
<path d="M1578.5 534.99L1579.2 534.28L1581.8 534.28L1582.5 534.99L1609.1 581.06L1609.1 583.66L1608.4 584.36L1605.8 584.36L1605.1 583.66L1578.5 537.59ZM1551.9 581.06L1552.6 580.36L1608.4 580.36L1609.1 581.06L1609.1 583.66L1608.4 584.36L1552.6 584.36L1551.9 583.66ZM1551.9 581.06L1578.5 534.99L1579.2 534.28L1581.8 534.28L1582.5 534.99L1582.5 537.59L1555.9 583.66L1555.2 584.36L1552.6 584.36L1551.9 583.66ZM1549.5 536.7L1550.2 536L1552.8 536L1611.5 594.7L1611.5 597.3L1610.8 598L1608.2 598L1549.5 539.3ZM1549.5 594.7L1608.2 536L1610.8 536L1611.5 536.7L1611.5 539.3L1552.8 598L1550.2 598L1549.5 597.3Z" fill="#0000ff"/>
<path d="M1578.5 555.99L1579.2 555.28L1581.8 555.28L1582.5 555.99L1609.1 602.06L1609.1 604.66L1608.4 605.36L1605.8 605.36L1605.1 604.66L1578.5 558.59ZM1551.9 602.06L1552.6 601.36L1608.4 601.36L1609.1 602.06L1609.1 604.66L1608.4 605.36L1552.6 605.36L1551.9 604.66ZM1551.9 602.06L1578.5 555.99L1579.2 555.28L1581.8 555.28L1582.5 555.99L1582.5 558.59L1555.9 604.66L1555.2 605.36L1552.6 605.36L1551.9 604.66ZM1549.5 557.7L1550.2 557L1552.8 557L1611.5 615.7L1611.5 618.3L1610.8 619L1608.2 619L1549.5 560.3ZM1549.5 615.7L1608.2 557L1610.8 557L1611.5 557.7L1611.5 560.3L1552.8 619L1550.2 619L1549.5 618.3Z" fill="#0000ff"/>
<path d="M1578.5 574.99L1579.2 574.28L1581.8 574.28L1582.5 574.99L1609.1 621.06L1609.1 623.66L1608.4 624.36L1605.8 624.36L1605.1 623.66L1578.5 577.59ZM1551.9 621.06L1552.6 620.36L1608.4 620.36L1609.1 621.06L1609.1 623.66L1608.4 624.36L1552.6 624.36L1551.9 623.66ZM1551.9 621.06L1578.5 574.99L1579.2 574.28L1581.8 574.28L1582.5 574.99L1582.5 577.59L1555.9 623.66L1555.2 624.36L1552.6 624.36L1551.9 623.66ZM1549.5 576.7L1550.2 576L1552.8 576L1611.5 634.7L1611.5 637.3L1610.8 638L1608.2 638L1549.5 579.3ZM1549.5 634.7L1608.2 576L1610.8 576L1611.5 576.7L1611.5 579.3L1552.8 638L1550.2 638L1549.5 637.3Z" fill="#0000ff"/>
<path d="M1578.5 596.38L1579.2 595.68L1581.8 595.68L1582.5 596.38L1609.1 642.46L1609.1 645.06L1608.4 645.76L1605.8 645.76L1605.1 645.06L1578.5 598.99ZM1551.9 642.46L1552.6 641.76L1608.4 641.76L1609.1 642.46L1609.1 645.06L1608.4 645.76L1552.6 645.76L1551.9 645.06ZM1551.9 642.46L1578.5 596.38L1579.2 595.68L1581.8 595.68L1582.5 596.38L1582.5 598.99L1555.9 645.06L1555.2 645.76L1552.6 645.76L1551.9 645.06ZM1549.5 598.1L1550.2 597.4L1552.8 597.4L1611.5 656.1L1611.5 658.7L1610.8 659.4L1608.2 659.4L1549.5 600.7ZM1549.5 656.1L1608.2 597.4L1610.8 597.4L1611.5 598.1L1611.5 600.7L1552.8 659.4L1550.2 659.4L1549.5 658.7Z" fill="#0000ff"/>
<path d="M1578.5 646.49L1579.2 645.78L1581.8 645.78L1582.5 646.49L1609.1 692.56L1609.1 695.16L1608.4 695.86L1605.8 695.86L1605.1 695.16L1578.5 649.09ZM1551.9 692.56L1552.6 691.86L1608.4 691.86L1609.1 692.56L1609.1 695.16L1608.4 695.86L1552.6 695.86L1551.9 695.16ZM1551.9 692.56L1578.5 646.49L1579.2 645.78L1581.8 645.78L1582.5 646.49L1582.5 649.09L1555.9 695.16L1555.2 695.86L1552.6 695.86L1551.9 695.16ZM1549.5 648.2L1550.2 647.5L1552.8 647.5L1611.5 706.2L1611.5 708.8L1610.8 709.5L1608.2 709.5L1549.5 650.8ZM1549.5 706.2L1608.2 647.5L1610.8 647.5L1611.5 648.2L1611.5 650.8L1552.8 709.5L1550.2 709.5L1549.5 708.8Z" fill="#0000ff"/>
<path d="M1578.5 583.41L1605.1 537.34L1605.8 536.64L1608.4 536.64L1609.1 537.34L1609.1 539.94L1582.5 586.01L1581.8 586.72L1579.2 586.72L1578.5 586.01ZM1551.9 537.34L1552.6 536.64L1608.4 536.64L1609.1 537.34L1609.1 539.94L1608.4 540.64L1552.6 540.64L1551.9 539.94ZM1551.9 537.34L1552.6 536.64L1555.2 536.64L1555.9 537.34L1582.5 583.41L1582.5 586.01L1581.8 586.72L1579.2 586.72L1578.5 586.01L1551.9 539.94ZM1549.5 523.7L1550.2 523L1552.8 523L1611.5 581.7L1611.5 584.3L1610.8 585L1608.2 585L1549.5 526.3ZM1549.5 581.7L1608.2 523L1610.8 523L1611.5 523.7L1611.5 526.3L1552.8 585L1550.2 585L1549.5 584.3Z" fill="#000080"/>
<path d="M1578.5 607.41L1605.1 561.34L1605.8 560.64L1608.4 560.64L1609.1 561.34L1609.1 563.94L1582.5 610.01L1581.8 610.72L1579.2 610.72L1578.5 610.01ZM1551.9 561.34L1552.6 560.64L1608.4 560.64L1609.1 561.34L1609.1 563.94L1608.4 564.64L1552.6 564.64L1551.9 563.94ZM1551.9 561.34L1552.6 560.64L1555.2 560.64L1555.9 561.34L1582.5 607.41L1582.5 610.01L1581.8 610.72L1579.2 610.72L1578.5 610.01L1551.9 563.94ZM1549.5 547.7L1550.2 547L1552.8 547L1611.5 605.7L1611.5 608.3L1610.8 609L1608.2 609L1549.5 550.3ZM1549.5 605.7L1608.2 547L1610.8 547L1611.5 547.7L1611.5 550.3L1552.8 609L1550.2 609L1549.5 608.3Z" fill="#000080"/>
<path d="M1578.5 627.62L1605.1 581.54L1605.8 580.84L1608.4 580.84L1609.1 581.54L1609.1 584.14L1582.5 630.22L1581.8 630.91L1579.2 630.91L1578.5 630.22ZM1551.9 581.54L1552.6 580.84L1608.4 580.84L1609.1 581.54L1609.1 584.14L1608.4 584.84L1552.6 584.84L1551.9 584.14ZM1551.9 581.54L1552.6 580.84L1555.2 580.84L1555.9 581.54L1582.5 627.62L1582.5 630.22L1581.8 630.91L1579.2 630.91L1578.5 630.22L1551.9 584.14ZM1549.5 567.9L1550.2 567.2L1552.8 567.2L1611.5 625.9L1611.5 628.5L1610.8 629.2L1608.2 629.2L1549.5 570.5ZM1549.5 625.9L1608.2 567.2L1610.8 567.2L1611.5 567.9L1611.5 570.5L1552.8 629.2L1550.2 629.2L1549.5 628.5Z" fill="#000080"/>
<path d="M1578.5 646.01L1605.1 599.94L1605.8 599.24L1608.4 599.24L1609.1 599.94L1609.1 602.54L1582.5 648.62L1581.8 649.32L1579.2 649.32L1578.5 648.62ZM1551.9 599.94L1552.6 599.24L1608.4 599.24L1609.1 599.94L1609.1 602.54L1608.4 603.24L1552.6 603.24L1551.9 602.54ZM1551.9 599.94L1552.6 599.24L1555.2 599.24L1555.9 599.94L1582.5 646.01L1582.5 648.62L1581.8 649.32L1579.2 649.32L1578.5 648.62L1551.9 602.54ZM1549.5 586.3L1550.2 585.6L1552.8 585.6L1611.5 644.3L1611.5 646.9L1610.8 647.6L1608.2 647.6L1549.5 588.9ZM1549.5 644.3L1608.2 585.6L1610.8 585.6L1611.5 586.3L1611.5 588.9L1552.8 647.6L1550.2 647.6L1549.5 646.9Z" fill="#000080"/>
<path d="M1578.5 668.91L1605.1 622.84L1605.8 622.14L1608.4 622.14L1609.1 622.84L1609.1 625.44L1582.5 671.51L1581.8 672.22L1579.2 672.22L1578.5 671.51ZM1551.9 622.84L1552.6 622.14L1608.4 622.14L1609.1 622.84L1609.1 625.44L1608.4 626.14L1552.6 626.14L1551.9 625.44ZM1551.9 622.84L1552.6 622.14L1555.2 622.14L1555.9 622.84L1582.5 668.91L1582.5 671.51L1581.8 672.22L1579.2 672.22L1578.5 671.51L1551.9 625.44ZM1549.5 609.2L1550.2 608.5L1552.8 608.5L1611.5 667.2L1611.5 669.8L1610.8 670.5L1608.2 670.5L1549.5 611.8ZM1549.5 667.2L1608.2 608.5L1610.8 608.5L1611.5 609.2L1611.5 611.8L1552.8 670.5L1550.2 670.5L1549.5 669.8Z" fill="#000080"/>
<path d="M1578.9 475.35L1579.6 474.65L1582.2 474.65L1610.65 502.5L1611.35 503.2L1611.35 505.8L1610.65 506.5L1608.05 506.5L1579.6 478.65L1578.9 477.95ZM1578.9 531.05L1579.6 530.35L1608.05 502.5L1610.65 502.5L1611.35 503.2L1611.35 505.8L1610.65 506.5L1582.2 534.35L1579.6 534.35L1578.9 533.65ZM1550.45 503.2L1551.15 502.5L1553.75 502.5L1582.2 530.35L1582.9 531.05L1582.9 533.65L1582.2 534.35L1579.6 534.35L1551.15 506.5L1550.45 505.8ZM1550.45 503.2L1551.15 502.5L1579.6 474.65L1582.2 474.65L1582.9 475.35L1582.9 477.95L1582.2 478.65L1553.75 506.5L1551.15 506.5L1550.45 505.8ZM1551.9 476.2L1552.6 475.5L1555.2 475.5L1609.9 530.2L1609.9 532.8L1609.2 533.5L1606.6 533.5L1551.9 478.8ZM1551.9 530.2L1606.6 475.5L1609.2 475.5L1609.9 476.2L1609.9 478.8L1555.2 533.5L1552.6 533.5L1551.9 532.8Z" fill="#008080"/>
<path d="M1578.9 453.75L1579.6 453.05L1582.2 453.05L1610.65 480.9L1611.35 481.6L1611.35 484.2L1610.65 484.9L1608.05 484.9L1579.6 457.05L1578.9 456.35ZM1578.9 509.45L1579.6 508.75L1608.05 480.9L1610.65 480.9L1611.35 481.6L1611.35 484.2L1610.65 484.9L1582.2 512.75L1579.6 512.75L1578.9 512.05ZM1550.45 481.6L1551.15 480.9L1553.75 480.9L1582.2 508.75L1582.9 509.45L1582.9 512.05L1582.2 512.75L1579.6 512.75L1551.15 484.9L1550.45 484.2ZM1550.45 481.6L1551.15 480.9L1579.6 453.05L1582.2 453.05L1582.9 453.75L1582.9 456.35L1582.2 457.05L1553.75 484.9L1551.15 484.9L1550.45 484.2ZM1551.9 454.6L1552.6 453.9L1555.2 453.9L1609.9 508.6L1609.9 511.2L1609.2 511.9L1606.6 511.9L1551.9 457.2ZM1551.9 508.6L1606.6 453.9L1609.2 453.9L1609.9 454.6L1609.9 457.2L1555.2 511.9L1552.6 511.9L1551.9 511.2Z" fill="#008080"/>
<path d="M1578.9 437.35L1579.6 436.65L1582.2 436.65L1610.65 464.5L1611.35 465.2L1611.35 467.8L1610.65 468.5L1608.05 468.5L1579.6 440.65L1578.9 439.95ZM1578.9 493.05L1579.6 492.35L1608.05 464.5L1610.65 464.5L1611.35 465.2L1611.35 467.8L1610.65 468.5L1582.2 496.35L1579.6 496.35L1578.9 495.65ZM1550.45 465.2L1551.15 464.5L1553.75 464.5L1582.2 492.35L1582.9 493.05L1582.9 495.65L1582.2 496.35L1579.6 496.35L1551.15 468.5L1550.45 467.8ZM1550.45 465.2L1551.15 464.5L1579.6 436.65L1582.2 436.65L1582.9 437.35L1582.9 439.95L1582.2 440.65L1553.75 468.5L1551.15 468.5L1550.45 467.8ZM1551.9 438.2L1552.6 437.5L1555.2 437.5L1609.9 492.2L1609.9 494.8L1609.2 495.5L1606.6 495.5L1551.9 440.8ZM1551.9 492.2L1606.6 437.5L1609.2 437.5L1609.9 438.2L1609.9 440.8L1555.2 495.5L1552.6 495.5L1551.9 494.8Z" fill="#008080"/>
<path d="M1578.9 412.15L1579.6 411.45L1582.2 411.45L1610.65 439.3L1611.35 440L1611.35 442.6L1610.65 443.3L1608.05 443.3L1579.6 415.45L1578.9 414.75ZM1578.9 467.85L1579.6 467.15L1608.05 439.3L1610.65 439.3L1611.35 440L1611.35 442.6L1610.65 443.3L1582.2 471.15L1579.6 471.15L1578.9 470.45ZM1550.45 440L1551.15 439.3L1553.75 439.3L1582.2 467.15L1582.9 467.85L1582.9 470.45L1582.2 471.15L1579.6 471.15L1551.15 443.3L1550.45 442.6ZM1550.45 440L1551.15 439.3L1579.6 411.45L1582.2 411.45L1582.9 412.15L1582.9 414.75L1582.2 415.45L1553.75 443.3L1551.15 443.3L1550.45 442.6ZM1551.9 413L1552.6 412.3L1555.2 412.3L1609.9 467L1609.9 469.6L1609.2 470.3L1606.6 470.3L1551.9 415.6ZM1551.9 467L1606.6 412.3L1609.2 412.3L1609.9 413L1609.9 415.6L1555.2 470.3L1552.6 470.3L1551.9 469.6Z" fill="#008080"/>
<path d="M1578.9 387.65L1579.6 386.95L1582.2 386.95L1610.65 414.8L1611.35 415.5L1611.35 418.1L1610.65 418.8L1608.05 418.8L1579.6 390.95L1578.9 390.25ZM1578.9 443.35L1579.6 442.65L1608.05 414.8L1610.65 414.8L1611.35 415.5L1611.35 418.1L1610.65 418.8L1582.2 446.65L1579.6 446.65L1578.9 445.95ZM1550.45 415.5L1551.15 414.8L1553.75 414.8L1582.2 442.65L1582.9 443.35L1582.9 445.95L1582.2 446.65L1579.6 446.65L1551.15 418.8L1550.45 418.1ZM1550.45 415.5L1551.15 414.8L1579.6 386.95L1582.2 386.95L1582.9 387.65L1582.9 390.25L1582.2 390.95L1553.75 418.8L1551.15 418.8L1550.45 418.1ZM1551.9 388.5L1552.6 387.8L1555.2 387.8L1609.9 442.5L1609.9 445.1L1609.2 445.8L1606.6 445.8L1551.9 391.1ZM1551.9 442.5L1606.6 387.8L1609.2 387.8L1609.9 388.5L1609.9 391.1L1555.2 445.8L1552.6 445.8L1551.9 445.1Z" fill="#008080"/>
<path d="M1547.79 480.2L1548.48 479.5L1594.56 452.9L1597.16 452.9L1597.86 453.6L1597.86 456.2L1597.16 456.9L1551.09 483.5L1548.48 483.5L1547.79 482.8ZM1593.86 453.6L1594.56 452.9L1597.16 452.9L1597.86 453.6L1597.86 509.4L1597.16 510.1L1594.56 510.1L1593.86 509.4ZM1547.79 480.2L1548.48 479.5L1551.09 479.5L1597.16 506.1L1597.86 506.8L1597.86 509.4L1597.16 510.1L1594.56 510.1L1548.48 483.5L1547.79 482.8ZM1549.5 451.2L1550.2 450.5L1552.8 450.5L1611.5 509.2L1611.5 511.8L1610.8 512.5L1608.2 512.5L1549.5 453.8ZM1549.5 509.2L1608.2 450.5L1610.8 450.5L1611.5 451.2L1611.5 453.8L1552.8 512.5L1550.2 512.5L1549.5 511.8Z" fill="#d3d3d3"/>
<path d="M1547.79 483.2L1548.48 482.5L1594.56 455.9L1597.16 455.9L1597.86 456.6L1597.86 459.2L1597.16 459.9L1551.09 486.5L1548.48 486.5L1547.79 485.8ZM1593.86 456.6L1594.56 455.9L1597.16 455.9L1597.86 456.6L1597.86 512.4L1597.16 513.1L1594.56 513.1L1593.86 512.4ZM1547.79 483.2L1548.48 482.5L1551.09 482.5L1597.16 509.1L1597.86 509.8L1597.86 512.4L1597.16 513.1L1594.56 513.1L1548.48 486.5L1547.79 485.8ZM1549.5 454.2L1550.2 453.5L1552.8 453.5L1611.5 512.2L1611.5 514.8L1610.8 515.5L1608.2 515.5L1549.5 456.8ZM1549.5 512.2L1608.2 453.5L1610.8 453.5L1611.5 454.2L1611.5 456.8L1552.8 515.5L1550.2 515.5L1549.5 514.8Z" fill="#d3d3d3"/>
<path d="M1547.79 516.7L1548.48 516L1594.56 489.4L1597.16 489.4L1597.86 490.1L1597.86 492.7L1597.16 493.4L1551.09 520L1548.48 520L1547.79 519.3ZM1593.86 490.1L1594.56 489.4L1597.16 489.4L1597.86 490.1L1597.86 545.9L1597.16 546.6L1594.56 546.6L1593.86 545.9ZM1547.79 516.7L1548.48 516L1551.09 516L1597.16 542.6L1597.86 543.3L1597.86 545.9L1597.16 546.6L1594.56 546.6L1548.48 520L1547.79 519.3ZM1549.5 487.7L1550.2 487L1552.8 487L1611.5 545.7L1611.5 548.3L1610.8 549L1608.2 549L1549.5 490.3ZM1549.5 545.7L1608.2 487L1610.8 487L1611.5 487.7L1611.5 490.3L1552.8 549L1550.2 549L1549.5 548.3Z" fill="#d3d3d3"/>
<path d="M1547.79 519.7L1548.48 519L1594.56 492.4L1597.16 492.4L1597.86 493.1L1597.86 495.7L1597.16 496.4L1551.09 523L1548.48 523L1547.79 522.3ZM1593.86 493.1L1594.56 492.4L1597.16 492.4L1597.86 493.1L1597.86 548.9L1597.16 549.6L1594.56 549.6L1593.86 548.9ZM1547.79 519.7L1548.48 519L1551.09 519L1597.16 545.6L1597.86 546.3L1597.86 548.9L1597.16 549.6L1594.56 549.6L1548.48 523L1547.79 522.3ZM1549.5 490.7L1550.2 490L1552.8 490L1611.5 548.7L1611.5 551.3L1610.8 552L1608.2 552L1549.5 493.3ZM1549.5 548.7L1608.2 490L1610.8 490L1611.5 490.7L1611.5 493.3L1552.8 552L1550.2 552L1549.5 551.3Z" fill="#d3d3d3"/>
<path d="M1547.79 549.8L1548.48 549.1L1594.56 522.5L1597.16 522.5L1597.86 523.2L1597.86 525.8L1597.16 526.5L1551.09 553.1L1548.48 553.1L1547.79 552.4ZM1593.86 523.2L1594.56 522.5L1597.16 522.5L1597.86 523.2L1597.86 579L1597.16 579.7L1594.56 579.7L1593.86 579ZM1547.79 549.8L1548.48 549.1L1551.09 549.1L1597.16 575.7L1597.86 576.4L1597.86 579L1597.16 579.7L1594.56 579.7L1548.48 553.1L1547.79 552.4ZM1549.5 520.8L1550.2 520.1L1552.8 520.1L1611.5 578.8L1611.5 581.4L1610.8 582.1L1608.2 582.1L1549.5 523.4ZM1549.5 578.8L1608.2 520.1L1610.8 520.1L1611.5 520.8L1611.5 523.4L1552.8 582.1L1550.2 582.1L1549.5 581.4Z" fill="#d3d3d3"/>
<path d="M1923.8 225.7L1962.8 225.7L1962.8 264.7L1923.8 264.7Z" fill="#fff"/><path d="M1921.8 224.4L1922.5 223.7L1964.1 223.7L1964.8 224.4L1964.8 227L1964.1 227.7L1922.5 227.7L1921.8 227ZM1960.8 224.4L1961.5 223.7L1964.1 223.7L1964.8 224.4L1964.8 266L1964.1 266.7L1961.5 266.7L1960.8 266ZM1921.8 263.4L1922.5 262.7L1964.1 262.7L1964.8 263.4L1964.8 266L1964.1 266.7L1922.5 266.7L1921.8 266ZM1921.8 224.4L1922.5 223.7L1925.1 223.7L1925.8 224.4L1925.8 266L1925.1 266.7L1922.5 266.7L1921.8 266ZM1921.8 224.4L1922.5 223.7L1964.1 223.7L1964.8 224.4L1964.8 246.5L1964.1 247.2L1922.5 247.2L1921.8 246.5Z" fill="#000000"/>
<path d="M1923.8 236L1962.8 236L1962.8 275L1923.8 275Z" fill="#fff"/><path d="M1921.8 234.7L1922.5 234L1964.1 234L1964.8 234.7L1964.8 237.3L1964.1 238L1922.5 238L1921.8 237.3ZM1960.8 234.7L1961.5 234L1964.1 234L1964.8 234.7L1964.8 276.3L1964.1 277L1961.5 277L1960.8 276.3ZM1921.8 273.7L1922.5 273L1964.1 273L1964.8 273.7L1964.8 276.3L1964.1 277L1922.5 277L1921.8 276.3ZM1921.8 234.7L1922.5 234L1925.1 234L1925.8 234.7L1925.8 276.3L1925.1 277L1922.5 277L1921.8 276.3ZM1921.8 234.7L1922.5 234L1964.1 234L1964.8 234.7L1964.8 256.8L1964.1 257.5L1922.5 257.5L1921.8 256.8Z" fill="#000000"/>
<circle cx="1943" cy="179.5" r="22" fill="#fff" stroke="#ff0000" stroke-width="4.4"/><path d="M1918.8 180A24.2 24.2 0 0 1 1967.2 180Z" fill="#ff0000"/>
<circle cx="1943" cy="314.5" r="22" fill="#fff" stroke="#ff0000" stroke-width="4.4"/><path d="M1918.8 315A24.2 24.2 0 0 1 1967.2 315Z" fill="#ff0000"/>
<path d="M1943.3 209.48L1969.9 255.56L1916.7 255.56Z" fill="#fff"/><path d="M1941.3 208.19L1942 207.49L1944.6 207.49L1945.3 208.19L1971.9 254.26L1971.9 256.86L1971.2 257.56L1968.6 257.56L1967.9 256.86L1941.3 210.78ZM1914.7 254.26L1915.4 253.56L1971.2 253.56L1971.9 254.26L1971.9 256.86L1971.2 257.56L1915.4 257.56L1914.7 256.86ZM1914.7 254.26L1941.3 208.19L1942 207.49L1944.6 207.49L1945.3 208.19L1945.3 210.78L1918.7 256.86L1918 257.56L1915.4 257.56L1914.7 256.86ZM1923.57 238.9L1941.3 208.19L1942 207.49L1944.6 207.49L1945.3 208.19L1963.03 238.9L1963.03 241.5L1962.33 242.2L1924.27 242.2L1923.57 241.5Z" fill="#0000ff"/>
<path d="M1943.3 242.18L1969.9 288.26L1916.7 288.26Z" fill="#fff"/><path d="M1941.3 240.88L1942 240.19L1944.6 240.19L1945.3 240.88L1971.9 286.96L1971.9 289.56L1971.2 290.26L1968.6 290.26L1967.9 289.56L1941.3 243.49ZM1914.7 286.96L1915.4 286.26L1971.2 286.26L1971.9 286.96L1971.9 289.56L1971.2 290.26L1915.4 290.26L1914.7 289.56ZM1914.7 286.96L1941.3 240.88L1942 240.19L1944.6 240.19L1945.3 240.88L1945.3 243.49L1918.7 289.56L1918 290.26L1915.4 290.26L1914.7 289.56ZM1923.57 271.6L1941.3 240.88L1942 240.19L1944.6 240.19L1945.3 240.88L1963.03 271.6L1963.03 274.2L1962.33 274.9L1924.27 274.9L1923.57 274.2Z" fill="#0000ff"/>
<path d="M1943.3 271.58L1969.9 317.66L1916.7 317.66Z" fill="#fff"/><path d="M1941.3 270.29L1942 269.58L1944.6 269.58L1945.3 270.29L1971.9 316.36L1971.9 318.96L1971.2 319.66L1968.6 319.66L1967.9 318.96L1941.3 272.88ZM1914.7 316.36L1915.4 315.66L1971.2 315.66L1971.9 316.36L1971.9 318.96L1971.2 319.66L1915.4 319.66L1914.7 318.96ZM1914.7 316.36L1941.3 270.29L1942 269.58L1944.6 269.58L1945.3 270.29L1945.3 272.88L1918.7 318.96L1918 319.66L1915.4 319.66L1914.7 318.96ZM1923.57 301L1941.3 270.29L1942 269.58L1944.6 269.58L1945.3 270.29L1963.03 301L1963.03 303.6L1962.33 304.3L1924.27 304.3L1923.57 303.6Z" fill="#0000ff"/>
<path d="M1943.3 305.88L1969.9 351.96L1916.7 351.96Z" fill="#fff"/><path d="M1941.3 304.58L1942 303.88L1944.6 303.88L1945.3 304.58L1971.9 350.66L1971.9 353.26L1971.2 353.96L1968.6 353.96L1967.9 353.26L1941.3 307.19ZM1914.7 350.66L1915.4 349.96L1971.2 349.96L1971.9 350.66L1971.9 353.26L1971.2 353.96L1915.4 353.96L1914.7 353.26ZM1914.7 350.66L1941.3 304.58L1942 303.88L1944.6 303.88L1945.3 304.58L1945.3 307.19L1918.7 353.26L1918 353.96L1915.4 353.96L1914.7 353.26ZM1923.57 335.3L1941.3 304.58L1942 303.88L1944.6 303.88L1945.3 304.58L1963.03 335.3L1963.03 337.9L1962.33 338.6L1924.27 338.6L1923.57 337.9Z" fill="#0000ff"/>
<path d="M1943.3 377.32L1969.9 331.24L1916.7 331.24Z" fill="#fff"/><path d="M1941.3 376.01L1967.9 329.94L1968.6 329.24L1971.2 329.24L1971.9 329.94L1971.9 332.54L1945.3 378.62L1944.6 379.31L1942 379.31L1941.3 378.62ZM1914.7 329.94L1915.4 329.24L1971.2 329.24L1971.9 329.94L1971.9 332.54L1971.2 333.24L1915.4 333.24L1914.7 332.54ZM1914.7 329.94L1915.4 329.24L1918 329.24L1918.7 329.94L1945.3 376.01L1945.3 378.62L1944.6 379.31L1942 379.31L1941.3 378.62L1914.7 332.54ZM1914.7 329.94L1915.4 329.24L1971.2 329.24L1971.9 329.94L1971.9 332.54L1963.03 347.9L1962.33 348.6L1924.27 348.6L1923.57 347.9L1914.7 332.54Z" fill="#000080"/>
<path d="M1943.3 354.12L1969.9 308.04L1916.7 308.04Z" fill="#fff"/><path d="M1941.3 352.81L1967.9 306.74L1968.6 306.04L1971.2 306.04L1971.9 306.74L1971.9 309.34L1945.3 355.42L1944.6 356.12L1942 356.12L1941.3 355.42ZM1914.7 306.74L1915.4 306.04L1971.2 306.04L1971.9 306.74L1971.9 309.34L1971.2 310.04L1915.4 310.04L1914.7 309.34ZM1914.7 306.74L1915.4 306.04L1918 306.04L1918.7 306.74L1945.3 352.81L1945.3 355.42L1944.6 356.12L1942 356.12L1941.3 355.42L1914.7 309.34ZM1914.7 306.74L1915.4 306.04L1971.2 306.04L1971.9 306.74L1971.9 309.34L1963.03 324.7L1962.33 325.4L1924.27 325.4L1923.57 324.7L1914.7 309.34Z" fill="#000080"/>
<path d="M1943.3 337.22L1969.9 291.14L1916.7 291.14Z" fill="#fff"/><path d="M1941.3 335.92L1967.9 289.84L1968.6 289.14L1971.2 289.14L1971.9 289.84L1971.9 292.44L1945.3 338.51L1944.6 339.21L1942 339.21L1941.3 338.51ZM1914.7 289.84L1915.4 289.14L1971.2 289.14L1971.9 289.84L1971.9 292.44L1971.2 293.14L1915.4 293.14L1914.7 292.44ZM1914.7 289.84L1915.4 289.14L1918 289.14L1918.7 289.84L1945.3 335.92L1945.3 338.51L1944.6 339.21L1942 339.21L1941.3 338.51L1914.7 292.44ZM1914.7 289.84L1915.4 289.14L1971.2 289.14L1971.9 289.84L1971.9 292.44L1963.03 307.8L1962.33 308.5L1924.27 308.5L1923.57 307.8L1914.7 292.44Z" fill="#000080"/>
<path d="M1943.3 295.32L1969.9 249.24L1916.7 249.24Z" fill="#fff"/><path d="M1941.3 294.01L1967.9 247.94L1968.6 247.24L1971.2 247.24L1971.9 247.94L1971.9 250.54L1945.3 296.62L1944.6 297.31L1942 297.31L1941.3 296.62ZM1914.7 247.94L1915.4 247.24L1971.2 247.24L1971.9 247.94L1971.9 250.54L1971.2 251.24L1915.4 251.24L1914.7 250.54ZM1914.7 247.94L1915.4 247.24L1918 247.24L1918.7 247.94L1945.3 294.01L1945.3 296.62L1944.6 297.31L1942 297.31L1941.3 296.62L1914.7 250.54ZM1914.7 247.94L1915.4 247.24L1971.2 247.24L1971.9 247.94L1971.9 250.54L1963.03 265.9L1962.33 266.6L1924.27 266.6L1923.57 265.9L1914.7 250.54Z" fill="#000080"/>
<path d="M1943.3 289.42L1969.9 243.34L1916.7 243.34Z" fill="#fff"/><path d="M1941.3 288.12L1967.9 242.04L1968.6 241.34L1971.2 241.34L1971.9 242.04L1971.9 244.64L1945.3 290.71L1944.6 291.42L1942 291.42L1941.3 290.71ZM1914.7 242.04L1915.4 241.34L1971.2 241.34L1971.9 242.04L1971.9 244.64L1971.2 245.34L1915.4 245.34L1914.7 244.64ZM1914.7 242.04L1915.4 241.34L1918 241.34L1918.7 242.04L1945.3 288.12L1945.3 290.71L1944.6 291.42L1942 291.42L1941.3 290.71L1914.7 244.64ZM1914.7 242.04L1915.4 241.34L1971.2 241.34L1971.9 242.04L1971.9 244.64L1963.03 260L1962.33 260.7L1924.27 260.7L1923.57 260L1914.7 244.64Z" fill="#000080"/>
<path d="M1943.7 122.15L1972.15 150L1943.7 177.85L1915.25 150Z" fill="#fff"/><path d="M1941.7 120.85L1942.4 120.15L1945 120.15L1973.45 148L1974.15 148.7L1974.15 151.3L1973.45 152L1970.85 152L1942.4 124.15L1941.7 123.45ZM1941.7 176.55L1942.4 175.85L1970.85 148L1973.45 148L1974.15 148.7L1974.15 151.3L1973.45 152L1945 179.85L1942.4 179.85L1941.7 179.15ZM1913.25 148.7L1913.95 148L1916.55 148L1945 175.85L1945.7 176.55L1945.7 179.15L1945 179.85L1942.4 179.85L1913.95 152L1913.25 151.3ZM1913.25 148.7L1913.95 148L1942.4 120.15L1945 120.15L1945.7 120.85L1945.7 123.45L1945 124.15L1916.55 152L1913.95 152L1913.25 151.3ZM1913.25 148.7L1913.95 148L1942.4 120.15L1945 120.15L1973.45 148L1974.15 148.7L1974.15 151.3L1973.45 152L1913.95 152L1913.25 151.3Z" fill="#008080"/>
<path d="M1943.7 96.45L1972.15 124.3L1943.7 152.15L1915.25 124.3Z" fill="#fff"/><path d="M1941.7 95.15L1942.4 94.45L1945 94.45L1973.45 122.3L1974.15 123L1974.15 125.6L1973.45 126.3L1970.85 126.3L1942.4 98.45L1941.7 97.75ZM1941.7 150.85L1942.4 150.15L1970.85 122.3L1973.45 122.3L1974.15 123L1974.15 125.6L1973.45 126.3L1945 154.15L1942.4 154.15L1941.7 153.45ZM1913.25 123L1913.95 122.3L1916.55 122.3L1945 150.15L1945.7 150.85L1945.7 153.45L1945 154.15L1942.4 154.15L1913.95 126.3L1913.25 125.6ZM1913.25 123L1913.95 122.3L1942.4 94.45L1945 94.45L1945.7 95.15L1945.7 97.75L1945 98.45L1916.55 126.3L1913.95 126.3L1913.25 125.6ZM1913.25 123L1913.95 122.3L1942.4 94.45L1945 94.45L1973.45 122.3L1974.15 123L1974.15 125.6L1973.45 126.3L1913.95 126.3L1913.25 125.6Z" fill="#008080"/>
<path d="M1943.7 169.45L1972.15 197.3L1943.7 225.15L1915.25 197.3Z" fill="#fff"/><path d="M1941.7 168.15L1942.4 167.45L1945 167.45L1973.45 195.3L1974.15 196L1974.15 198.6L1973.45 199.3L1970.85 199.3L1942.4 171.45L1941.7 170.75ZM1941.7 223.85L1942.4 223.15L1970.85 195.3L1973.45 195.3L1974.15 196L1974.15 198.6L1973.45 199.3L1945 227.15L1942.4 227.15L1941.7 226.45ZM1913.25 196L1913.95 195.3L1916.55 195.3L1945 223.15L1945.7 223.85L1945.7 226.45L1945 227.15L1942.4 227.15L1913.95 199.3L1913.25 198.6ZM1913.25 196L1913.95 195.3L1942.4 167.45L1945 167.45L1945.7 168.15L1945.7 170.75L1945 171.45L1916.55 199.3L1913.95 199.3L1913.25 198.6ZM1913.25 196L1913.95 195.3L1942.4 167.45L1945 167.45L1973.45 195.3L1974.15 196L1974.15 198.6L1973.45 199.3L1913.95 199.3L1913.25 198.6Z" fill="#008080"/>
<path d="M1943.7 184.05L1972.15 211.9L1943.7 239.75L1915.25 211.9Z" fill="#fff"/><path d="M1941.7 182.75L1942.4 182.05L1945 182.05L1973.45 209.9L1974.15 210.6L1974.15 213.2L1973.45 213.9L1970.85 213.9L1942.4 186.05L1941.7 185.35ZM1941.7 238.45L1942.4 237.75L1970.85 209.9L1973.45 209.9L1974.15 210.6L1974.15 213.2L1973.45 213.9L1945 241.75L1942.4 241.75L1941.7 241.05ZM1913.25 210.6L1913.95 209.9L1916.55 209.9L1945 237.75L1945.7 238.45L1945.7 241.05L1945 241.75L1942.4 241.75L1913.95 213.9L1913.25 213.2ZM1913.25 210.6L1913.95 209.9L1942.4 182.05L1945 182.05L1945.7 182.75L1945.7 185.35L1945 186.05L1916.55 213.9L1913.95 213.9L1913.25 213.2ZM1913.25 210.6L1913.95 209.9L1942.4 182.05L1945 182.05L1973.45 209.9L1974.15 210.6L1974.15 213.2L1973.45 213.9L1913.95 213.9L1913.25 213.2Z" fill="#008080"/>
<path d="M1943.7 315.45L1972.15 343.3L1943.7 371.15L1915.25 343.3Z" fill="#fff"/><path d="M1941.7 314.15L1942.4 313.45L1945 313.45L1973.45 341.3L1974.15 342L1974.15 344.6L1973.45 345.3L1970.85 345.3L1942.4 317.45L1941.7 316.75ZM1941.7 369.85L1942.4 369.15L1970.85 341.3L1973.45 341.3L1974.15 342L1974.15 344.6L1973.45 345.3L1945 373.15L1942.4 373.15L1941.7 372.45ZM1913.25 342L1913.95 341.3L1916.55 341.3L1945 369.15L1945.7 369.85L1945.7 372.45L1945 373.15L1942.4 373.15L1913.95 345.3L1913.25 344.6ZM1913.25 342L1913.95 341.3L1942.4 313.45L1945 313.45L1945.7 314.15L1945.7 316.75L1945 317.45L1916.55 345.3L1913.95 345.3L1913.25 344.6ZM1913.25 342L1913.95 341.3L1942.4 313.45L1945 313.45L1973.45 341.3L1974.15 342L1974.15 344.6L1973.45 345.3L1913.95 345.3L1913.25 344.6Z" fill="#008080"/>
<path d="M1912.58 191.6L1958.66 165L1958.66 218.2Z" fill="#fff"/><path d="M1910.59 190.3L1911.29 189.6L1957.36 163L1959.96 163L1960.66 163.7L1960.66 166.3L1959.96 167L1913.88 193.6L1911.29 193.6L1910.59 192.9ZM1956.66 163.7L1957.36 163L1959.96 163L1960.66 163.7L1960.66 219.5L1959.96 220.2L1957.36 220.2L1956.66 219.5ZM1910.59 190.3L1911.29 189.6L1913.88 189.6L1959.96 216.2L1960.66 216.9L1960.66 219.5L1959.96 220.2L1957.36 220.2L1911.29 193.6L1910.59 192.9ZM1910.59 190.3L1911.29 189.6L1957.36 163L1959.96 163L1960.66 163.7L1960.66 192.9L1959.96 193.6L1911.29 193.6L1910.59 192.9Z" fill="#d3d3d3"/>
<path d="M1912.58 226.6L1958.66 200L1958.66 253.2Z" fill="#fff"/><path d="M1910.59 225.3L1911.29 224.6L1957.36 198L1959.96 198L1960.66 198.7L1960.66 201.3L1959.96 202L1913.88 228.6L1911.29 228.6L1910.59 227.9ZM1956.66 198.7L1957.36 198L1959.96 198L1960.66 198.7L1960.66 254.5L1959.96 255.2L1957.36 255.2L1956.66 254.5ZM1910.59 225.3L1911.29 224.6L1913.88 224.6L1959.96 251.2L1960.66 251.9L1960.66 254.5L1959.96 255.2L1957.36 255.2L1911.29 228.6L1910.59 227.9ZM1910.59 225.3L1911.29 224.6L1957.36 198L1959.96 198L1960.66 198.7L1960.66 227.9L1959.96 228.6L1911.29 228.6L1910.59 227.9Z" fill="#d3d3d3"/>
<path d="M1912.58 260.5L1958.66 233.9L1958.66 287.1Z" fill="#fff"/><path d="M1910.59 259.2L1911.29 258.5L1957.36 231.9L1959.96 231.9L1960.66 232.6L1960.66 235.2L1959.96 235.9L1913.88 262.5L1911.29 262.5L1910.59 261.8ZM1956.66 232.6L1957.36 231.9L1959.96 231.9L1960.66 232.6L1960.66 288.4L1959.96 289.1L1957.36 289.1L1956.66 288.4ZM1910.59 259.2L1911.29 258.5L1913.88 258.5L1959.96 285.1L1960.66 285.8L1960.66 288.4L1959.96 289.1L1957.36 289.1L1911.29 262.5L1910.59 261.8ZM1910.59 259.2L1911.29 258.5L1957.36 231.9L1959.96 231.9L1960.66 232.6L1960.66 261.8L1959.96 262.5L1911.29 262.5L1910.59 261.8Z" fill="#d3d3d3"/>
<path d="M1912.58 334.8L1958.66 308.2L1958.66 361.4Z" fill="#fff"/><path d="M1910.59 333.5L1911.29 332.8L1957.36 306.2L1959.96 306.2L1960.66 306.9L1960.66 309.5L1959.96 310.2L1913.88 336.8L1911.29 336.8L1910.59 336.1ZM1956.66 306.9L1957.36 306.2L1959.96 306.2L1960.66 306.9L1960.66 362.7L1959.96 363.4L1957.36 363.4L1956.66 362.7ZM1910.59 333.5L1911.29 332.8L1913.88 332.8L1959.96 359.4L1960.66 360.1L1960.66 362.7L1959.96 363.4L1957.36 363.4L1911.29 336.8L1910.59 336.1ZM1910.59 333.5L1911.29 332.8L1957.36 306.2L1959.96 306.2L1960.66 306.9L1960.66 336.1L1959.96 336.8L1911.29 336.8L1910.59 336.1Z" fill="#d3d3d3"/>
</g>
<g stroke="#000" stroke-width="3.5" stroke-linecap="round" stroke-dasharray="1.5 10.587" fill="none">
<line x1="313.1" y1="1352.5" x2="1995" y2="84.2" stroke-dashoffset="11.34"/>
<line x1="447.3" y1="1544" x2="2120.5" y2="268.1" stroke-dashoffset="8.8"/>
</g>
<g stroke="#000" stroke-width="6.8" stroke-linecap="round" fill="none">
<path d="M311.5 112.85V1557.6"/>
<path d="M297.4 1543.5H2094.5"/>
<path d="M297.05 82.85H2124.5" stroke-width="6.1"/>
<path d="M2124.5 82.85V1557.6"/>
<path d="M492.8 1543.5V1571.9" stroke-width="6.2"/>
<path d="M311.5 1397.43H283.1" stroke-width="6.2"/>
<path d="M674.1 1543.5V1557.9" stroke-width="6.2"/>
<path d="M311.5 1251.37H297.1" stroke-width="6.2"/>
<path d="M855.4 1543.5V1571.9" stroke-width="6.2"/>
<path d="M311.5 1105.31H283.1" stroke-width="6.2"/>
<path d="M1036.7 1543.5V1557.9" stroke-width="6.2"/>
<path d="M311.5 959.24H297.1" stroke-width="6.2"/>
<path d="M1218 1543.5V1571.9" stroke-width="6.2"/>
<path d="M311.5 813.17H283.1" stroke-width="6.2"/>
<path d="M1399.3 1543.5V1557.9" stroke-width="6.2"/>
<path d="M311.5 667.11H297.1" stroke-width="6.2"/>
<path d="M1580.6 1543.5V1571.9" stroke-width="6.2"/>
<path d="M311.5 521.04H283.1" stroke-width="6.2"/>
<path d="M1761.9 1543.5V1557.9" stroke-width="6.2"/>
<path d="M311.5 374.98H297.1" stroke-width="6.2"/>
<path d="M1943.2 1543.5V1571.9" stroke-width="6.2"/>
<path d="M311.5 228.91H283.1" stroke-width="6.2"/>
</g>
<clipPath id="cpa"><rect x="0" y="79.8" width="2127.9" height="1844"/></clipPath>
<g fill="#000" stroke="#000" stroke-width="6" stroke-linejoin="round" clip-path="url(#cpa)">
<polygon points="312.5,79.4 299,122 326,122"/>
<polygon points="2136.6,1542.8 2084.4,1529.3 2084.4,1556.3"/>
<rect x="2064" y="1539.3" width="19" height="8.4" stroke="none"/>
<rect x="312.5" y="122" width="3" height="5" stroke="none"/>
</g>
<path fill-rule="evenodd" fill="#000" d="M332.1 96H1326.05V551.1H332.1ZM336 99.1V548.1H1323V99.1Z"/>
<g id="leg">
<path d="M376 239.8L376.7 239.1L418.3 239.1L419 239.8L419 281.4L418.3 282.1L376.7 282.1L376 281.4Z" fill="#000000"/>
<circle cx="526.9" cy="260.1" r="24.2" fill="#ff0000"/>
<path d="M628 274.66L654.6 228.59L655.3 227.88L657.9 227.88L658.6 228.59L685.2 274.66L685.2 277.26L684.5 277.96L628.7 277.96L628 277.26Z" fill="#0000ff"/>
<path d="M757 243.94L757.7 243.24L813.5 243.24L814.2 243.94L814.2 246.54L787.6 292.62L786.9 293.31L784.3 293.31L783.6 292.62L757 246.54Z" fill="#000080"/>
<path d="M885.05 259.3L885.75 258.6L913.9 230.6L916.5 230.6L944.65 258.6L945.35 259.3L945.35 261.9L944.65 262.6L916.5 290.6L913.9 290.6L885.75 262.6L885.05 261.9Z" fill="#008080"/>
<path d="M1012.49 259.3L1013.18 258.6L1059.26 232L1061.86 232L1062.56 232.7L1062.56 288.5L1061.86 289.2L1059.26 289.2L1013.18 262.6L1012.49 261.9Z" fill="#d3d3d3"/>
<path d="M378 304.3L417 304.3L417 343.3L378 343.3Z" fill="#fff"/><path d="M376 303L376.7 302.3L418.3 302.3L419 303L419 305.6L418.3 306.3L376.7 306.3L376 305.6ZM415 303L415.7 302.3L418.3 302.3L419 303L419 344.6L418.3 345.3L415.7 345.3L415 344.6ZM376 342L376.7 341.3L418.3 341.3L419 342L419 344.6L418.3 345.3L376.7 345.3L376 344.6ZM376 303L376.7 302.3L379.3 302.3L380 303L380 344.6L379.3 345.3L376.7 345.3L376 344.6Z" fill="#000000"/>
<circle cx="526.9" cy="323.3" r="22" fill="#fff" stroke="#ff0000" stroke-width="4.4"/>
<path d="M656.6 293.08L683.2 339.16L630 339.16Z" fill="#fff"/><path d="M654.6 291.79L655.3 291.08L657.9 291.08L658.6 291.79L685.2 337.86L685.2 340.46L684.5 341.16L681.9 341.16L681.2 340.46L654.6 294.38ZM628 337.86L628.7 337.16L684.5 337.16L685.2 337.86L685.2 340.46L684.5 341.16L628.7 341.16L628 340.46ZM628 337.86L654.6 291.79L655.3 291.08L657.9 291.08L658.6 291.79L658.6 294.38L632 340.46L631.3 341.16L628.7 341.16L628 340.46Z" fill="#0000ff"/>
<path d="M785.6 354.52L812.2 308.44L759 308.44Z" fill="#fff"/><path d="M783.6 353.21L810.2 307.14L810.9 306.44L813.5 306.44L814.2 307.14L814.2 309.74L787.6 355.81L786.9 356.51L784.3 356.51L783.6 355.81ZM757 307.14L757.7 306.44L813.5 306.44L814.2 307.14L814.2 309.74L813.5 310.44L757.7 310.44L757 309.74ZM757 307.14L757.7 306.44L760.3 306.44L761 307.14L787.6 353.21L787.6 355.81L786.9 356.51L784.3 356.51L783.6 355.81L757 309.74Z" fill="#000080"/>
<path d="M915.2 295.8L943.35 323.8L915.2 351.8L887.05 323.8Z" fill="#fff"/><path d="M913.2 294.5L913.9 293.8L916.5 293.8L944.65 321.8L945.35 322.5L945.35 325.1L944.65 325.8L942.05 325.8L913.9 297.8L913.2 297.1ZM913.2 350.5L913.9 349.8L942.05 321.8L944.65 321.8L945.35 322.5L945.35 325.1L944.65 325.8L916.5 353.8L913.9 353.8L913.2 353.1ZM885.05 322.5L885.75 321.8L888.35 321.8L916.5 349.8L917.2 350.5L917.2 353.1L916.5 353.8L913.9 353.8L885.75 325.8L885.05 325.1ZM885.05 322.5L885.75 321.8L913.9 293.8L916.5 293.8L917.2 294.5L917.2 297.1L916.5 297.8L888.35 325.8L885.75 325.8L885.05 325.1Z" fill="#008080"/>
<path d="M1014.48 323.8L1060.56 297.2L1060.56 350.4Z" fill="#fff"/><path d="M1012.49 322.5L1013.18 321.8L1059.26 295.2L1061.86 295.2L1062.56 295.9L1062.56 298.5L1061.86 299.2L1015.78 325.8L1013.18 325.8L1012.49 325.1ZM1058.56 295.9L1059.26 295.2L1061.86 295.2L1062.56 295.9L1062.56 351.7L1061.86 352.4L1059.26 352.4L1058.56 351.7ZM1012.49 322.5L1013.18 321.8L1015.78 321.8L1061.86 348.4L1062.56 349.1L1062.56 351.7L1061.86 352.4L1059.26 352.4L1013.18 325.8L1012.49 325.1Z" fill="#d3d3d3"/>
<path d="M376 366.2L376.7 365.5L418.3 365.5L419 366.2L419 368.8L418.3 369.5L376.7 369.5L376 368.8ZM415 366.2L415.7 365.5L418.3 365.5L419 366.2L419 407.8L418.3 408.5L415.7 408.5L415 407.8ZM376 405.2L376.7 404.5L418.3 404.5L419 405.2L419 407.8L418.3 408.5L376.7 408.5L376 407.8ZM376 366.2L376.7 365.5L379.3 365.5L380 366.2L380 407.8L379.3 408.5L376.7 408.5L376 407.8ZM376 385.7L376.7 385L418.3 385L419 385.7L419 388.3L418.3 389L376.7 389L376 388.3ZM395.5 366.2L396.2 365.5L398.8 365.5L399.5 366.2L399.5 407.8L398.8 408.5L396.2 408.5L395.5 407.8Z" fill="#000000"/>
<circle cx="526.9" cy="386.5" r="22" fill="none" stroke="#ff0000" stroke-width="4.4"/><path d="M503.2 385.7L503.9 385L550.5 385L551.2 385.7L551.2 388.3L550.5 389L503.9 389L503.2 388.3ZM525.2 363.7L525.9 363L528.5 363L529.2 363.7L529.2 410.3L528.5 411L525.9 411L525.2 410.3Z" fill="#ff0000"/>
<path d="M654.6 354.99L655.3 354.29L657.9 354.29L658.6 354.99L685.2 401.06L685.2 403.66L684.5 404.36L681.9 404.36L681.2 403.66L654.6 357.58ZM628 401.06L628.7 400.36L684.5 400.36L685.2 401.06L685.2 403.66L684.5 404.36L628.7 404.36L628 403.66ZM628 401.06L654.6 354.99L655.3 354.29L657.9 354.29L658.6 354.99L658.6 357.58L632 403.66L631.3 404.36L628.7 404.36L628 403.66ZM623.88 385.7L624.59 385L688.62 385L689.32 385.7L689.32 388.3L688.62 389L624.59 389L623.88 388.3ZM654.6 354.99L655.3 354.29L657.9 354.29L658.6 354.99L658.6 419.01L657.9 419.71L655.3 419.71L654.6 419.01Z" fill="#0000ff"/>
<path d="M783.6 416.42L810.2 370.34L810.9 369.64L813.5 369.64L814.2 370.34L814.2 372.94L787.6 419.01L786.9 419.71L784.3 419.71L783.6 419.01ZM757 370.34L757.7 369.64L813.5 369.64L814.2 370.34L814.2 372.94L813.5 373.64L757.7 373.64L757 372.94ZM757 370.34L757.7 369.64L760.3 369.64L761 370.34L787.6 416.42L787.6 419.01L786.9 419.71L784.3 419.71L783.6 419.01L757 372.94ZM752.88 385.7L753.59 385L817.62 385L818.32 385.7L818.32 388.3L817.62 389L753.59 389L752.88 388.3ZM783.6 354.99L784.3 354.29L786.9 354.29L787.6 354.99L787.6 419.01L786.9 419.71L784.3 419.71L783.6 419.01Z" fill="#000080"/>
<path d="M913.2 357.7L913.9 357L916.5 357L944.65 385L945.35 385.7L945.35 388.3L944.65 389L942.05 389L913.9 361L913.2 360.3ZM913.2 413.7L913.9 413L942.05 385L944.65 385L945.35 385.7L945.35 388.3L944.65 389L916.5 417L913.9 417L913.2 416.3ZM885.05 385.7L885.75 385L888.35 385L916.5 413L917.2 413.7L917.2 416.3L916.5 417L913.9 417L885.75 389L885.05 388.3ZM885.05 385.7L885.75 385L913.9 357L916.5 357L917.2 357.7L917.2 360.3L916.5 361L888.35 389L885.75 389L885.05 388.3ZM885.05 385.7L885.75 385L944.65 385L945.35 385.7L945.35 388.3L944.65 389L885.75 389L885.05 388.3ZM913.2 357.55L913.9 356.85L916.5 356.85L917.2 357.55L917.2 416.45L916.5 417.15L913.9 417.15L913.2 416.45Z" fill="#008080"/>
<path d="M1012.49 385.7L1013.18 385L1059.26 358.4L1061.86 358.4L1062.56 359.1L1062.56 361.7L1061.86 362.4L1015.78 389L1013.18 389L1012.49 388.3ZM1058.56 359.1L1059.26 358.4L1061.86 358.4L1062.56 359.1L1062.56 414.9L1061.86 415.6L1059.26 415.6L1058.56 414.9ZM1012.49 385.7L1013.18 385L1015.78 385L1061.86 411.6L1062.56 412.3L1062.56 414.9L1061.86 415.6L1059.26 415.6L1013.18 389L1012.49 388.3ZM1012.49 385.7L1013.18 385L1077.21 385L1077.91 385.7L1077.91 388.3L1077.21 389L1013.18 389L1012.49 388.3ZM1043.2 354.99L1043.9 354.29L1046.5 354.29L1047.2 354.99L1047.2 419.01L1046.5 419.71L1043.9 419.71L1043.2 419.01Z" fill="#d3d3d3"/>
<path d="M376 429.6L376.7 428.9L418.3 428.9L419 429.6L419 432.2L418.3 432.9L376.7 432.9L376 432.2ZM415 429.6L415.7 428.9L418.3 428.9L419 429.6L419 471.2L418.3 471.9L415.7 471.9L415 471.2ZM376 468.6L376.7 467.9L418.3 467.9L419 468.6L419 471.2L418.3 471.9L376.7 471.9L376 471.2ZM376 429.6L376.7 428.9L379.3 428.9L380 429.6L380 471.2L379.3 471.9L376.7 471.9L376 471.2ZM376 429.6L376.7 428.9L379.3 428.9L419 468.6L419 471.2L418.3 471.9L415.7 471.9L376 432.2ZM376 468.6L415.7 428.9L418.3 428.9L419 429.6L419 432.2L379.3 471.9L376.7 471.9L376 471.2Z" fill="#000000"/>
<circle cx="526.9" cy="449.9" r="22" fill="none" stroke="#ff0000" stroke-width="4.4"/><path d="M503.7 427.6L504.4 426.9L507 426.9L550.7 470.6L550.7 473.2L550 473.9L547.4 473.9L503.7 430.2ZM503.7 470.6L547.4 426.9L550 426.9L550.7 427.6L550.7 430.2L507 473.9L504.4 473.9L503.7 473.2Z" fill="#ff0000"/>
<path d="M654.6 418.38L655.3 417.69L657.9 417.69L658.6 418.38L685.2 464.46L685.2 467.06L684.5 467.76L681.9 467.76L681.2 467.06L654.6 420.99ZM628 464.46L628.7 463.76L684.5 463.76L685.2 464.46L685.2 467.06L684.5 467.76L628.7 467.76L628 467.06ZM628 464.46L654.6 418.38L655.3 417.69L657.9 417.69L658.6 418.38L658.6 420.99L632 467.06L631.3 467.76L628.7 467.76L628 467.06ZM625.6 420.1L626.3 419.4L628.9 419.4L687.6 478.1L687.6 480.7L686.9 481.4L684.3 481.4L625.6 422.7ZM625.6 478.1L684.3 419.4L686.9 419.4L687.6 420.1L687.6 422.7L628.9 481.4L626.3 481.4L625.6 480.7Z" fill="#0000ff"/>
<path d="M783.6 479.81L810.2 433.74L810.9 433.04L813.5 433.04L814.2 433.74L814.2 436.34L787.6 482.42L786.9 483.12L784.3 483.12L783.6 482.42ZM757 433.74L757.7 433.04L813.5 433.04L814.2 433.74L814.2 436.34L813.5 437.04L757.7 437.04L757 436.34ZM757 433.74L757.7 433.04L760.3 433.04L761 433.74L787.6 479.81L787.6 482.42L786.9 483.12L784.3 483.12L783.6 482.42L757 436.34ZM754.6 420.1L755.3 419.4L757.9 419.4L816.6 478.1L816.6 480.7L815.9 481.4L813.3 481.4L754.6 422.7ZM754.6 478.1L813.3 419.4L815.9 419.4L816.6 420.1L816.6 422.7L757.9 481.4L755.3 481.4L754.6 480.7Z" fill="#000080"/>
<path d="M913.2 421.1L913.9 420.4L916.5 420.4L944.65 448.4L945.35 449.1L945.35 451.7L944.65 452.4L942.05 452.4L913.9 424.4L913.2 423.7ZM913.2 477.1L913.9 476.4L942.05 448.4L944.65 448.4L945.35 449.1L945.35 451.7L944.65 452.4L916.5 480.4L913.9 480.4L913.2 479.7ZM885.05 449.1L885.75 448.4L888.35 448.4L916.5 476.4L917.2 477.1L917.2 479.7L916.5 480.4L913.9 480.4L885.75 452.4L885.05 451.7ZM885.05 449.1L885.75 448.4L913.9 420.4L916.5 420.4L917.2 421.1L917.2 423.7L916.5 424.4L888.35 452.4L885.75 452.4L885.05 451.7ZM886.2 422.1L886.9 421.4L889.5 421.4L944.2 476.1L944.2 478.7L943.5 479.4L940.9 479.4L886.2 424.7ZM886.2 476.1L940.9 421.4L943.5 421.4L944.2 422.1L944.2 424.7L889.5 479.4L886.9 479.4L886.2 478.7Z" fill="#008080"/>
<path d="M1012.49 449.1L1013.18 448.4L1059.26 421.8L1061.86 421.8L1062.56 422.5L1062.56 425.1L1061.86 425.8L1015.78 452.4L1013.18 452.4L1012.49 451.7ZM1058.56 422.5L1059.26 421.8L1061.86 421.8L1062.56 422.5L1062.56 478.3L1061.86 479L1059.26 479L1058.56 478.3ZM1012.49 449.1L1013.18 448.4L1015.78 448.4L1061.86 475L1062.56 475.7L1062.56 478.3L1061.86 479L1059.26 479L1013.18 452.4L1012.49 451.7ZM1014.2 420.1L1014.9 419.4L1017.5 419.4L1076.2 478.1L1076.2 480.7L1075.5 481.4L1072.9 481.4L1014.2 422.7ZM1014.2 478.1L1072.9 419.4L1075.5 419.4L1076.2 420.1L1076.2 422.7L1017.5 481.4L1014.9 481.4L1014.2 480.7Z" fill="#d3d3d3"/>
<path d="M378 494.1L417 494.1L417 533.1L378 533.1Z" fill="#fff"/><path d="M376 492.8L376.7 492.1L418.3 492.1L419 492.8L419 495.4L418.3 496.1L376.7 496.1L376 495.4ZM415 492.8L415.7 492.1L418.3 492.1L419 492.8L419 534.4L418.3 535.1L415.7 535.1L415 534.4ZM376 531.8L376.7 531.1L418.3 531.1L419 531.8L419 534.4L418.3 535.1L376.7 535.1L376 534.4ZM376 492.8L376.7 492.1L379.3 492.1L380 492.8L380 534.4L379.3 535.1L376.7 535.1L376 534.4ZM376 492.8L376.7 492.1L418.3 492.1L419 492.8L419 514.9L418.3 515.6L376.7 515.6L376 514.9Z" fill="#000000"/>
<circle cx="526.9" cy="513.1" r="22" fill="#fff" stroke="#ff0000" stroke-width="4.4"/><path d="M502.7 513.6A24.2 24.2 0 0 1 551.1 513.6Z" fill="#ff0000"/>
<path d="M656.6 482.88L683.2 528.96L630 528.96Z" fill="#fff"/><path d="M654.6 481.58L655.3 480.88L657.9 480.88L658.6 481.58L685.2 527.66L685.2 530.26L684.5 530.96L681.9 530.96L681.2 530.26L654.6 484.19ZM628 527.66L628.7 526.96L684.5 526.96L685.2 527.66L685.2 530.26L684.5 530.96L628.7 530.96L628 530.26ZM628 527.66L654.6 481.58L655.3 480.88L657.9 480.88L658.6 481.58L658.6 484.19L632 530.26L631.3 530.96L628.7 530.96L628 530.26ZM636.87 512.3L654.6 481.58L655.3 480.88L657.9 480.88L658.6 481.58L676.33 512.3L676.33 514.9L675.63 515.6L637.57 515.6L636.87 514.9Z" fill="#0000ff"/>
<path d="M785.6 544.32L812.2 498.24L759 498.24Z" fill="#fff"/><path d="M783.6 543.01L810.2 496.94L810.9 496.24L813.5 496.24L814.2 496.94L814.2 499.54L787.6 545.62L786.9 546.32L784.3 546.32L783.6 545.62ZM757 496.94L757.7 496.24L813.5 496.24L814.2 496.94L814.2 499.54L813.5 500.24L757.7 500.24L757 499.54ZM757 496.94L757.7 496.24L760.3 496.24L761 496.94L787.6 543.01L787.6 545.62L786.9 546.32L784.3 546.32L783.6 545.62L757 499.54ZM757 496.94L757.7 496.24L813.5 496.24L814.2 496.94L814.2 499.54L805.33 514.9L804.63 515.6L766.57 515.6L765.87 514.9L757 499.54Z" fill="#000080"/>
<path d="M915.2 485.6L943.35 513.6L915.2 541.6L887.05 513.6Z" fill="#fff"/><path d="M913.2 484.3L913.9 483.6L916.5 483.6L944.65 511.6L945.35 512.3L945.35 514.9L944.65 515.6L942.05 515.6L913.9 487.6L913.2 486.9ZM913.2 540.3L913.9 539.6L942.05 511.6L944.65 511.6L945.35 512.3L945.35 514.9L944.65 515.6L916.5 543.6L913.9 543.6L913.2 542.9ZM885.05 512.3L885.75 511.6L888.35 511.6L916.5 539.6L917.2 540.3L917.2 542.9L916.5 543.6L913.9 543.6L885.75 515.6L885.05 514.9ZM885.05 512.3L885.75 511.6L913.9 483.6L916.5 483.6L917.2 484.3L917.2 486.9L916.5 487.6L888.35 515.6L885.75 515.6L885.05 514.9ZM885.05 512.3L885.75 511.6L913.9 483.6L916.5 483.6L944.65 511.6L945.35 512.3L945.35 514.9L944.65 515.6L885.75 515.6L885.05 514.9Z" fill="#008080"/>
<path d="M1014.48 513.6L1060.56 487L1060.56 540.2Z" fill="#fff"/><path d="M1012.49 512.3L1013.18 511.6L1059.26 485L1061.86 485L1062.56 485.7L1062.56 488.3L1061.86 489L1015.78 515.6L1013.18 515.6L1012.49 514.9ZM1058.56 485.7L1059.26 485L1061.86 485L1062.56 485.7L1062.56 541.5L1061.86 542.2L1059.26 542.2L1058.56 541.5ZM1012.49 512.3L1013.18 511.6L1015.78 511.6L1061.86 538.2L1062.56 538.9L1062.56 541.5L1061.86 542.2L1059.26 542.2L1013.18 515.6L1012.49 514.9ZM1012.49 512.3L1013.18 511.6L1059.26 485L1061.86 485L1062.56 485.7L1062.56 514.9L1061.86 515.6L1013.18 515.6L1012.49 514.9Z" fill="#d3d3d3"/>
</g>
<g font-family="'Liberation Sans', sans-serif" fill="#000" stroke="#000" stroke-width="0.7" stroke-linejoin="round" style="font-kerning:none">
<text transform="translate(457.12 1640) scale(0.9889 1)" font-size="65">60</text>
<text transform="translate(191.02 1415.84) scale(0.9889 1)" font-size="65">60</text>
<text transform="translate(822.58 1640) scale(0.9379 1)" font-size="65">80</text>
<text transform="translate(195 1123.71) scale(0.9319 1)" font-size="65">80</text>
<text transform="translate(1169.45 1640) scale(0.9211 1)" font-size="65">100</text>
<text transform="translate(162.66 831.57) scale(0.9191 1)" font-size="65">100</text>
<text transform="translate(1532.14 1640) scale(0.9241 1)" font-size="65">120</text>
<text transform="translate(162.66 539.44) scale(0.9191 1)" font-size="65">120</text>
<text transform="translate(1894.11 1640) scale(0.9290 1)" font-size="65">140</text>
<text transform="translate(163.08 247.31) scale(0.9152 1)" font-size="65">140</text>
<text transform="translate(440.68 1783) scale(0.9721 1)" font-size="78">Measured ODHX secondary fluid flow rate (%)</text>
<text transform="translate(111.1 1582.92) rotate(-90) scale(0.9731 1)" font-size="78">Predicted ODHX secondary fluid flow rate (%)</text>
<text transform="translate(644.68 152) scale(0.9582 1)" font-size="53.7">RCR(%)</text>
<text transform="translate(1154.02 152) scale(0.9670 1)" font-size="53.7">IFR(%)</text>
<text transform="translate(368.69 214.5) scale(1.0196 1)" font-size="52.1">70</text>
<text transform="translate(499.95 214.5) scale(1.0024 1)" font-size="52.1">80</text>
<text transform="translate(630.51 214.5) scale(1.0157 1)" font-size="52.1">90</text>
<text transform="translate(746.88 214.5) scale(0.9910 1)" font-size="52.1">100</text>
<text transform="translate(876.85 214.5) scale(0.9972 1)" font-size="52.1">110</text>
<text transform="translate(1007.08 214.5) scale(0.9910 1)" font-size="52.1">120</text>
<text transform="translate(1203.19 277.5) scale(1.0000 1)" font-size="52.1">60</text>
<text transform="translate(1203.19 340.7) scale(1.0000 1)" font-size="52.1">80</text>
<text transform="translate(1174.21 403.9) scale(1.0000 1)" font-size="52.1">100</text>
<text transform="translate(1174.21 467.3) scale(1.0000 1)" font-size="52.1">120</text>
<text transform="translate(1174.21 530.5) scale(1.0000 1)" font-size="52.1">140</text>
<text transform="translate(881.11 762) scale(0.9630 1)" font-size="78.2">7.7%</text>
<text transform="translate(1209.58 1052.8) scale(0.9687 1)" font-size="78">-5.9%</text>
<text transform="translate(0 1397.9) scale(0.96 1)" font-size="65"><tspan x="1499.61" y="0" font-size="65">T</tspan><tspan x="1540.94" y="21.8" font-size="37.6">OD</tspan><tspan x="1599.58" y="0" font-size="65">/</tspan><tspan x="1616.59" y="0" font-size="65">T</tspan><tspan x="1655.6" y="21.8" font-size="37.6">ID</tspan><tspan x="1694.81" y="0" font-size="65">: </tspan><tspan x="1730.08" y="0" font-size="65">25 </tspan><tspan x="1813.99" y="-31.5" font-size="36.5">o</tspan><tspan x="1835.33" y="0" font-size="65">C</tspan><tspan x="1881.15" y="0" font-size="65">/</tspan><tspan x="1902.56" y="0" font-size="65">12 </tspan><tspan x="1989.09" y="-31.5" font-size="36.5">o</tspan><tspan x="2010.64" y="0" font-size="65">C</tspan></text>
<text transform="translate(1440.13 1491.8) scale(0.9666 1)" font-size="64">EEV opening: Adjusted</text>
</g>
</svg>
</body>
</html>
